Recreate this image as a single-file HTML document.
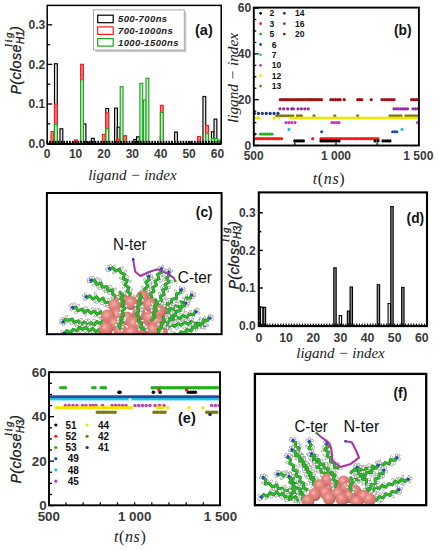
<!DOCTYPE html>
<html><head><meta charset="utf-8"><style>
html,body{margin:0;padding:0;background:#fff;}
body{width:438px;height:550px;overflow:hidden;}
svg{display:block;}
</style></head><body>
<svg width="438" height="550" viewBox="0 0 438 550">
<rect x="0" y="0" width="438" height="550" fill="#fff"/>
<rect x="54.50" y="63.70" width="2.80" height="80.40" fill="#e6e6e6" stroke="#000" stroke-width="1.15" />
<rect x="60.00" y="128.80" width="2.80" height="15.30" fill="#e6e6e6" stroke="#000" stroke-width="1.15" />
<rect x="74.20" y="142.00" width="2.80" height="2.10" fill="#e6e6e6" stroke="#000" stroke-width="1.15" />
<rect x="83.10" y="123.90" width="2.80" height="20.20" fill="#e6e6e6" stroke="#000" stroke-width="1.15" />
<rect x="85.90" y="142.00" width="2.80" height="2.10" fill="#e6e6e6" stroke="#000" stroke-width="1.15" />
<rect x="91.40" y="138.30" width="2.80" height="5.80" fill="#e6e6e6" stroke="#000" stroke-width="1.15" />
<rect x="105.80" y="108.50" width="2.80" height="35.60" fill="#e6e6e6" stroke="#000" stroke-width="1.15" />
<rect x="114.60" y="108.10" width="2.80" height="36.00" fill="#e6e6e6" stroke="#000" stroke-width="1.15" />
<rect x="117.20" y="127.20" width="2.80" height="16.90" fill="#e6e6e6" stroke="#000" stroke-width="1.15" />
<rect x="133.80" y="139.50" width="2.80" height="4.60" fill="#e6e6e6" stroke="#000" stroke-width="1.15" />
<rect x="136.60" y="136.80" width="2.80" height="7.30" fill="#e6e6e6" stroke="#000" stroke-width="1.15" />
<rect x="143.40" y="140.50" width="2.80" height="3.60" fill="#e6e6e6" stroke="#000" stroke-width="1.15" />
<rect x="160.40" y="136.00" width="2.80" height="8.10" fill="#e6e6e6" stroke="#000" stroke-width="1.15" />
<rect x="174.60" y="132.10" width="2.80" height="12.00" fill="#e6e6e6" stroke="#000" stroke-width="1.15" />
<rect x="188.30" y="142.00" width="2.80" height="2.10" fill="#e6e6e6" stroke="#000" stroke-width="1.15" />
<rect x="202.95" y="96.50" width="2.80" height="47.60" fill="#e6e6e6" stroke="#000" stroke-width="1.15" />
<rect x="211.40" y="131.80" width="2.80" height="12.30" fill="#e6e6e6" stroke="#000" stroke-width="1.15" />
<rect x="214.05" y="119.10" width="2.80" height="25.00" fill="#e6e6e6" stroke="#000" stroke-width="1.15" />
<rect x="51.00" y="131.50" width="2.80" height="12.60" fill="#ff8080" stroke="#ff1a1a" stroke-width="1.15" />
<rect x="54.50" y="104.20" width="2.80" height="39.90" fill="#ff8080" stroke="#ff1a1a" stroke-width="1.15" />
<rect x="74.40" y="140.00" width="2.80" height="4.10" fill="#ff8080" stroke="#ff1a1a" stroke-width="1.15" />
<rect x="80.60" y="64.30" width="2.80" height="79.80" fill="#ff8080" stroke="#ff1a1a" stroke-width="1.15" />
<rect x="102.40" y="134.40" width="2.80" height="9.70" fill="#ff8080" stroke="#ff1a1a" stroke-width="1.15" />
<rect x="105.80" y="112.90" width="2.80" height="31.20" fill="#ff8080" stroke="#ff1a1a" stroke-width="1.15" />
<rect x="116.60" y="139.20" width="2.80" height="4.90" fill="#ff8080" stroke="#ff1a1a" stroke-width="1.15" />
<rect x="123.60" y="135.70" width="2.80" height="8.40" fill="#ff8080" stroke="#ff1a1a" stroke-width="1.15" />
<rect x="160.40" y="105.30" width="2.80" height="38.80" fill="#ff8080" stroke="#ff1a1a" stroke-width="1.15" />
<rect x="197.60" y="136.50" width="2.80" height="7.60" fill="#ff8080" stroke="#ff1a1a" stroke-width="1.15" />
<rect x="205.70" y="125.50" width="2.80" height="18.60" fill="#ff8080" stroke="#ff1a1a" stroke-width="1.15" />
<rect x="54.50" y="124.70" width="2.80" height="19.40" fill="#c4eac4" stroke="#1aa81a" stroke-width="1.15" />
<rect x="80.60" y="79.70" width="2.80" height="64.40" fill="#c4eac4" stroke="#1aa81a" stroke-width="1.15" />
<rect x="105.80" y="128.80" width="2.80" height="15.30" fill="#c4eac4" stroke="#1aa81a" stroke-width="1.15" />
<rect x="120.20" y="86.70" width="2.80" height="57.40" fill="#c4eac4" stroke="#1aa81a" stroke-width="1.15" />
<rect x="139.90" y="83.30" width="2.80" height="60.80" fill="#c4eac4" stroke="#1aa81a" stroke-width="1.15" />
<rect x="143.40" y="100.10" width="2.80" height="44.00" fill="#c4eac4" stroke="#1aa81a" stroke-width="1.15" />
<rect x="146.00" y="78.20" width="2.80" height="65.90" fill="#c4eac4" stroke="#1aa81a" stroke-width="1.15" />
<rect x="160.40" y="112.40" width="2.80" height="31.70" fill="#c4eac4" stroke="#1aa81a" stroke-width="1.15" />
<rect x="205.70" y="133.50" width="2.80" height="10.60" fill="#c4eac4" stroke="#1aa81a" stroke-width="1.15" />
<rect x="211.60" y="138.50" width="2.80" height="5.60" fill="#c4eac4" stroke="#1aa81a" stroke-width="1.15" />
<rect x="214.60" y="138.50" width="2.80" height="5.60" fill="#c4eac4" stroke="#1aa81a" stroke-width="1.15" />
<rect x="217.60" y="140.00" width="2.80" height="4.10" fill="#c4eac4" stroke="#1aa81a" stroke-width="1.15" />
<rect x="46.30" y="140.80" width="1.80" height="2.80" fill="#000" stroke="none" stroke-width="1" />
<rect x="49.14" y="140.80" width="1.80" height="2.80" fill="#000" stroke="none" stroke-width="1" />
<rect x="51.98" y="140.80" width="1.80" height="2.80" fill="#000" stroke="none" stroke-width="1" />
<rect x="54.81" y="140.80" width="1.80" height="2.80" fill="#000" stroke="none" stroke-width="1" />
<rect x="57.65" y="140.80" width="1.80" height="2.80" fill="#000" stroke="none" stroke-width="1" />
<rect x="60.49" y="140.80" width="1.80" height="2.80" fill="#000" stroke="none" stroke-width="1" />
<rect x="63.33" y="140.80" width="1.80" height="2.80" fill="#000" stroke="none" stroke-width="1" />
<rect x="66.17" y="140.80" width="1.80" height="2.80" fill="#000" stroke="none" stroke-width="1" />
<rect x="69.00" y="140.80" width="1.80" height="2.80" fill="#000" stroke="none" stroke-width="1" />
<rect x="71.84" y="140.80" width="1.80" height="2.80" fill="#000" stroke="none" stroke-width="1" />
<rect x="74.68" y="140.80" width="1.80" height="2.80" fill="#000" stroke="none" stroke-width="1" />
<rect x="77.52" y="140.80" width="1.80" height="2.80" fill="#000" stroke="none" stroke-width="1" />
<rect x="80.36" y="140.80" width="1.80" height="2.80" fill="#000" stroke="none" stroke-width="1" />
<rect x="83.19" y="140.80" width="1.80" height="2.80" fill="#000" stroke="none" stroke-width="1" />
<rect x="86.03" y="140.80" width="1.80" height="2.80" fill="#000" stroke="none" stroke-width="1" />
<rect x="88.87" y="140.80" width="1.80" height="2.80" fill="#000" stroke="none" stroke-width="1" />
<rect x="91.71" y="140.80" width="1.80" height="2.80" fill="#000" stroke="none" stroke-width="1" />
<rect x="94.55" y="140.80" width="1.80" height="2.80" fill="#000" stroke="none" stroke-width="1" />
<rect x="97.38" y="140.80" width="1.80" height="2.80" fill="#000" stroke="none" stroke-width="1" />
<rect x="100.22" y="140.80" width="1.80" height="2.80" fill="#000" stroke="none" stroke-width="1" />
<rect x="103.06" y="140.80" width="1.80" height="2.80" fill="#000" stroke="none" stroke-width="1" />
<rect x="105.90" y="140.80" width="1.80" height="2.80" fill="#000" stroke="none" stroke-width="1" />
<rect x="108.74" y="140.80" width="1.80" height="2.80" fill="#000" stroke="none" stroke-width="1" />
<rect x="111.57" y="140.80" width="1.80" height="2.80" fill="#000" stroke="none" stroke-width="1" />
<rect x="114.41" y="140.80" width="1.80" height="2.80" fill="#000" stroke="none" stroke-width="1" />
<rect x="117.25" y="140.80" width="1.80" height="2.80" fill="#000" stroke="none" stroke-width="1" />
<rect x="120.09" y="140.80" width="1.80" height="2.80" fill="#000" stroke="none" stroke-width="1" />
<rect x="122.93" y="140.80" width="1.80" height="2.80" fill="#000" stroke="none" stroke-width="1" />
<rect x="125.76" y="140.80" width="1.80" height="2.80" fill="#000" stroke="none" stroke-width="1" />
<rect x="128.60" y="140.80" width="1.80" height="2.80" fill="#000" stroke="none" stroke-width="1" />
<rect x="131.44" y="140.80" width="1.80" height="2.80" fill="#000" stroke="none" stroke-width="1" />
<rect x="134.28" y="140.80" width="1.80" height="2.80" fill="#000" stroke="none" stroke-width="1" />
<rect x="137.12" y="140.80" width="1.80" height="2.80" fill="#000" stroke="none" stroke-width="1" />
<rect x="139.95" y="140.80" width="1.80" height="2.80" fill="#000" stroke="none" stroke-width="1" />
<rect x="142.79" y="140.80" width="1.80" height="2.80" fill="#000" stroke="none" stroke-width="1" />
<rect x="145.63" y="140.80" width="1.80" height="2.80" fill="#000" stroke="none" stroke-width="1" />
<rect x="148.47" y="140.80" width="1.80" height="2.80" fill="#000" stroke="none" stroke-width="1" />
<rect x="151.31" y="140.80" width="1.80" height="2.80" fill="#000" stroke="none" stroke-width="1" />
<rect x="154.14" y="140.80" width="1.80" height="2.80" fill="#000" stroke="none" stroke-width="1" />
<rect x="156.98" y="140.80" width="1.80" height="2.80" fill="#000" stroke="none" stroke-width="1" />
<rect x="159.82" y="140.80" width="1.80" height="2.80" fill="#000" stroke="none" stroke-width="1" />
<rect x="162.66" y="140.80" width="1.80" height="2.80" fill="#000" stroke="none" stroke-width="1" />
<rect x="165.50" y="140.80" width="1.80" height="2.80" fill="#000" stroke="none" stroke-width="1" />
<rect x="168.33" y="140.80" width="1.80" height="2.80" fill="#000" stroke="none" stroke-width="1" />
<rect x="171.17" y="140.80" width="1.80" height="2.80" fill="#000" stroke="none" stroke-width="1" />
<rect x="174.01" y="140.80" width="1.80" height="2.80" fill="#000" stroke="none" stroke-width="1" />
<rect x="176.85" y="140.80" width="1.80" height="2.80" fill="#000" stroke="none" stroke-width="1" />
<rect x="179.69" y="140.80" width="1.80" height="2.80" fill="#000" stroke="none" stroke-width="1" />
<rect x="182.52" y="140.80" width="1.80" height="2.80" fill="#000" stroke="none" stroke-width="1" />
<rect x="185.36" y="140.80" width="1.80" height="2.80" fill="#000" stroke="none" stroke-width="1" />
<rect x="188.20" y="140.80" width="1.80" height="2.80" fill="#000" stroke="none" stroke-width="1" />
<rect x="191.04" y="140.80" width="1.80" height="2.80" fill="#000" stroke="none" stroke-width="1" />
<rect x="193.88" y="140.80" width="1.80" height="2.80" fill="#000" stroke="none" stroke-width="1" />
<rect x="196.71" y="140.80" width="1.80" height="2.80" fill="#000" stroke="none" stroke-width="1" />
<rect x="199.55" y="140.80" width="1.80" height="2.80" fill="#000" stroke="none" stroke-width="1" />
<rect x="202.39" y="140.80" width="1.80" height="2.80" fill="#000" stroke="none" stroke-width="1" />
<rect x="205.23" y="140.80" width="1.80" height="2.80" fill="#000" stroke="none" stroke-width="1" />
<rect x="208.07" y="140.80" width="1.80" height="2.80" fill="#000" stroke="none" stroke-width="1" />
<rect x="210.90" y="140.80" width="1.80" height="2.80" fill="#000" stroke="none" stroke-width="1" />
<rect x="213.74" y="140.80" width="1.80" height="2.80" fill="#000" stroke="none" stroke-width="1" />
<rect x="216.58" y="140.80" width="1.80" height="2.80" fill="#000" stroke="none" stroke-width="1" />
<rect x="219.42" y="140.80" width="1.80" height="2.80" fill="#000" stroke="none" stroke-width="1" />
<rect x="47.20" y="5.40" width="174.00" height="138.40" fill="none" stroke="#000" stroke-width="1.5" />
<line x1="47.20" y1="144.00" x2="221.20" y2="144.00" stroke="#000" stroke-width="1.9"/>
<line x1="47.20" y1="143.60" x2="52.20" y2="143.60" stroke="#000" stroke-width="1.3"/>
<line x1="47.20" y1="123.80" x2="50.20" y2="123.80" stroke="#000" stroke-width="1.3"/>
<line x1="47.20" y1="104.00" x2="52.20" y2="104.00" stroke="#000" stroke-width="1.3"/>
<line x1="47.20" y1="84.20" x2="50.20" y2="84.20" stroke="#000" stroke-width="1.3"/>
<line x1="47.20" y1="64.40" x2="52.20" y2="64.40" stroke="#000" stroke-width="1.3"/>
<line x1="47.20" y1="44.60" x2="50.20" y2="44.60" stroke="#000" stroke-width="1.3"/>
<line x1="47.20" y1="24.80" x2="52.20" y2="24.80" stroke="#000" stroke-width="1.3"/>
<text x="45.30" y="147.90" font-family='"Liberation Sans", sans-serif' font-size="12" font-weight="bold" font-style="normal" text-anchor="end" fill="#3a3a3a" >0.0</text>
<text x="45.30" y="108.30" font-family='"Liberation Sans", sans-serif' font-size="12" font-weight="bold" font-style="normal" text-anchor="end" fill="#3a3a3a" >0.1</text>
<text x="45.30" y="68.70" font-family='"Liberation Sans", sans-serif' font-size="12" font-weight="bold" font-style="normal" text-anchor="end" fill="#3a3a3a" >0.2</text>
<text x="45.30" y="29.10" font-family='"Liberation Sans", sans-serif' font-size="12" font-weight="bold" font-style="normal" text-anchor="end" fill="#3a3a3a" >0.3</text>
<text x="47.20" y="157.70" font-family='"Liberation Sans", sans-serif' font-size="12" font-weight="bold" font-style="normal" text-anchor="middle" fill="#3a3a3a" >0</text>
<text x="75.58" y="157.70" font-family='"Liberation Sans", sans-serif' font-size="12" font-weight="bold" font-style="normal" text-anchor="middle" fill="#3a3a3a" >10</text>
<text x="103.96" y="157.70" font-family='"Liberation Sans", sans-serif' font-size="12" font-weight="bold" font-style="normal" text-anchor="middle" fill="#3a3a3a" >20</text>
<text x="132.34" y="157.70" font-family='"Liberation Sans", sans-serif' font-size="12" font-weight="bold" font-style="normal" text-anchor="middle" fill="#3a3a3a" >30</text>
<text x="160.72" y="157.70" font-family='"Liberation Sans", sans-serif' font-size="12" font-weight="bold" font-style="normal" text-anchor="middle" fill="#3a3a3a" >40</text>
<text x="189.10" y="157.70" font-family='"Liberation Sans", sans-serif' font-size="12" font-weight="bold" font-style="normal" text-anchor="middle" fill="#3a3a3a" >50</text>
<text x="217.48" y="157.70" font-family='"Liberation Sans", sans-serif' font-size="12" font-weight="bold" font-style="normal" text-anchor="middle" fill="#3a3a3a" >60</text>
<text x="132.40" y="180.20" font-family='"Liberation Serif", serif' font-size="15" font-weight="normal" font-style="italic" text-anchor="middle" fill="#222" >ligand − index</text>
<g transform="translate(21.00,94.60) rotate(-90)" font-family='"Liberation Sans", sans-serif' font-style="italic" fill="#1a1a1a" stroke="#1a1a1a" stroke-width="0.3"><text x="0" y="0" font-size="14.3" letter-spacing="0.4">P(close</text><text x="50.6" y="2.6" font-size="10" letter-spacing="0.3">H1</text><text x="47.6" y="-9.3" font-size="11" letter-spacing="1.4" font-family='"Liberation Serif", serif'>lig</text><text x="63.6" y="0" font-size="14.3">)</text></g>
<rect x="95.50" y="12.00" width="90.80" height="40.10" fill="#c8c8c8" stroke="none" stroke-width="1" />
<rect x="93.50" y="9.90" width="90.80" height="40.10" fill="#fff" stroke="#aaa" stroke-width="1" />
<rect x="97.70" y="15.20" width="15.50" height="7.50" fill="none" stroke="#000" stroke-width="1.2" />
<text x="118.00" y="22.40" font-family='"Liberation Sans", sans-serif' font-size="9.5" font-weight="bold" font-style="italic" text-anchor="start" fill="#222" letter-spacing="0.4">500-700ns</text>
<rect x="97.70" y="26.90" width="15.50" height="7.50" fill="none" stroke="#ff1a1a" stroke-width="1.2" />
<text x="118.00" y="34.10" font-family='"Liberation Sans", sans-serif' font-size="9.5" font-weight="bold" font-style="italic" text-anchor="start" fill="#222" letter-spacing="0.4">700-1000ns</text>
<rect x="97.70" y="38.60" width="15.50" height="7.50" fill="none" stroke="#1aa81a" stroke-width="1.2" />
<text x="118.00" y="45.80" font-family='"Liberation Sans", sans-serif' font-size="9.5" font-weight="bold" font-style="italic" text-anchor="start" fill="#222" letter-spacing="0.4">1000-1500ns</text>
<text x="195.00" y="34.60" font-family='"Liberation Sans", sans-serif' font-size="14.5" font-weight="bold" font-style="normal" text-anchor="start" fill="#111" >(a)</text>
<circle cx="280.30" cy="99.70" r="1.60" fill="#9a1212" />
<circle cx="282.58" cy="99.70" r="1.60" fill="#9a1212" />
<circle cx="284.87" cy="99.70" r="1.60" fill="#9a1212" />
<circle cx="287.15" cy="99.70" r="1.60" fill="#9a1212" />
<circle cx="289.43" cy="99.70" r="1.60" fill="#9a1212" />
<circle cx="291.72" cy="99.70" r="1.60" fill="#9a1212" />
<circle cx="294.00" cy="99.70" r="1.60" fill="#9a1212" />
<circle cx="296.28" cy="99.70" r="1.60" fill="#9a1212" />
<circle cx="298.57" cy="99.70" r="1.60" fill="#9a1212" />
<circle cx="300.85" cy="99.70" r="1.60" fill="#9a1212" />
<circle cx="303.13" cy="99.70" r="1.60" fill="#9a1212" />
<circle cx="305.42" cy="99.70" r="1.60" fill="#9a1212" />
<circle cx="307.70" cy="99.70" r="1.60" fill="#9a1212" />
<circle cx="309.40" cy="99.70" r="1.60" fill="#9a1212" />
<circle cx="311.42" cy="99.70" r="1.60" fill="#9a1212" />
<circle cx="313.43" cy="99.70" r="1.60" fill="#9a1212" />
<circle cx="315.45" cy="99.70" r="1.60" fill="#9a1212" />
<circle cx="317.47" cy="99.70" r="1.60" fill="#9a1212" />
<circle cx="319.48" cy="99.70" r="1.60" fill="#9a1212" />
<circle cx="321.50" cy="99.70" r="1.60" fill="#9a1212" />
<circle cx="330.80" cy="99.70" r="1.60" fill="#9a1212" />
<circle cx="333.15" cy="99.70" r="1.60" fill="#9a1212" />
<circle cx="335.50" cy="99.70" r="1.60" fill="#9a1212" />
<circle cx="337.85" cy="99.70" r="1.60" fill="#9a1212" />
<circle cx="340.20" cy="99.70" r="1.60" fill="#9a1212" />
<circle cx="344.20" cy="99.70" r="1.60" fill="#9a1212" />
<circle cx="357.70" cy="99.70" r="1.60" fill="#9a1212" />
<circle cx="359.75" cy="99.70" r="1.60" fill="#9a1212" />
<circle cx="361.80" cy="99.70" r="1.60" fill="#9a1212" />
<circle cx="371.20" cy="99.70" r="1.60" fill="#9a1212" />
<circle cx="382.00" cy="99.70" r="1.60" fill="#9a1212" />
<circle cx="384.40" cy="99.70" r="1.60" fill="#9a1212" />
<circle cx="386.80" cy="99.70" r="1.60" fill="#9a1212" />
<circle cx="389.20" cy="99.70" r="1.60" fill="#9a1212" />
<circle cx="391.60" cy="99.70" r="1.60" fill="#9a1212" />
<circle cx="394.00" cy="99.70" r="1.60" fill="#9a1212" />
<circle cx="411.60" cy="99.70" r="1.60" fill="#9a1212" />
<circle cx="413.73" cy="99.70" r="1.60" fill="#9a1212" />
<circle cx="415.87" cy="99.70" r="1.60" fill="#9a1212" />
<circle cx="418.00" cy="99.70" r="1.60" fill="#9a1212" />
<circle cx="280.00" cy="108.86" r="1.60" fill="#962aa0" />
<circle cx="283.70" cy="108.86" r="1.60" fill="#962aa0" />
<circle cx="287.70" cy="108.86" r="1.60" fill="#962aa0" />
<circle cx="291.70" cy="108.86" r="1.60" fill="#962aa0" />
<circle cx="293.40" cy="108.86" r="1.60" fill="#962aa0" />
<circle cx="298.00" cy="108.86" r="1.60" fill="#962aa0" />
<circle cx="301.40" cy="108.86" r="1.60" fill="#962aa0" />
<circle cx="304.80" cy="108.86" r="1.60" fill="#962aa0" />
<circle cx="308.20" cy="108.86" r="1.60" fill="#962aa0" />
<circle cx="394.00" cy="108.86" r="1.60" fill="#962aa0" />
<circle cx="396.25" cy="108.86" r="1.60" fill="#962aa0" />
<circle cx="398.50" cy="108.86" r="1.60" fill="#962aa0" />
<circle cx="400.75" cy="108.86" r="1.60" fill="#962aa0" />
<circle cx="403.00" cy="108.86" r="1.60" fill="#962aa0" />
<circle cx="405.25" cy="108.86" r="1.60" fill="#962aa0" />
<circle cx="407.50" cy="108.86" r="1.60" fill="#962aa0" />
<circle cx="413.00" cy="108.86" r="1.60" fill="#962aa0" />
<circle cx="415.50" cy="108.86" r="1.60" fill="#962aa0" />
<circle cx="418.00" cy="108.86" r="1.60" fill="#962aa0" />
<circle cx="254.50" cy="113.44" r="1.60" fill="#1a3488" />
<circle cx="258.42" cy="113.44" r="1.60" fill="#1a3488" />
<circle cx="262.33" cy="113.44" r="1.60" fill="#1a3488" />
<circle cx="266.25" cy="113.44" r="1.60" fill="#1a3488" />
<circle cx="270.17" cy="113.44" r="1.60" fill="#1a3488" />
<circle cx="274.08" cy="113.44" r="1.60" fill="#1a3488" />
<circle cx="278.00" cy="113.44" r="1.60" fill="#1a3488" />
<circle cx="276.80" cy="115.73" r="1.60" fill="#7a7a14" />
<circle cx="279.09" cy="115.73" r="1.60" fill="#7a7a14" />
<circle cx="281.37" cy="115.73" r="1.60" fill="#7a7a14" />
<circle cx="283.66" cy="115.73" r="1.60" fill="#7a7a14" />
<circle cx="285.94" cy="115.73" r="1.60" fill="#7a7a14" />
<circle cx="288.23" cy="115.73" r="1.60" fill="#7a7a14" />
<circle cx="290.51" cy="115.73" r="1.60" fill="#7a7a14" />
<circle cx="292.80" cy="115.73" r="1.60" fill="#7a7a14" />
<circle cx="297.40" cy="115.73" r="1.60" fill="#7a7a14" />
<circle cx="299.40" cy="115.73" r="1.60" fill="#7a7a14" />
<circle cx="301.40" cy="115.73" r="1.60" fill="#7a7a14" />
<circle cx="314.00" cy="115.73" r="1.60" fill="#7a7a14" />
<circle cx="334.80" cy="115.73" r="1.60" fill="#7a7a14" />
<circle cx="357.70" cy="115.73" r="1.60" fill="#7a7a14" />
<circle cx="390.00" cy="115.73" r="1.60" fill="#7a7a14" />
<circle cx="392.20" cy="115.73" r="1.60" fill="#7a7a14" />
<circle cx="394.40" cy="115.73" r="1.60" fill="#7a7a14" />
<circle cx="396.60" cy="115.73" r="1.60" fill="#7a7a14" />
<circle cx="398.80" cy="115.73" r="1.60" fill="#7a7a14" />
<circle cx="401.00" cy="115.73" r="1.60" fill="#7a7a14" />
<circle cx="406.00" cy="115.73" r="1.60" fill="#7a7a14" />
<circle cx="408.40" cy="115.73" r="1.60" fill="#7a7a14" />
<circle cx="410.80" cy="115.73" r="1.60" fill="#7a7a14" />
<circle cx="413.20" cy="115.73" r="1.60" fill="#7a7a14" />
<circle cx="415.60" cy="115.73" r="1.60" fill="#7a7a14" />
<circle cx="418.00" cy="115.73" r="1.60" fill="#7a7a14" />
<circle cx="255.00" cy="118.02" r="1.60" fill="#f2e400" />
<circle cx="257.00" cy="118.02" r="1.60" fill="#f2e400" />
<circle cx="259.00" cy="118.02" r="1.60" fill="#f2e400" />
<circle cx="274.00" cy="118.02" r="1.60" fill="#f2e400" />
<circle cx="279.00" cy="118.02" r="1.60" fill="#f2e400" />
<circle cx="290.50" cy="118.02" r="1.60" fill="#f2e400" />
<circle cx="292.68" cy="118.02" r="1.60" fill="#f2e400" />
<circle cx="294.86" cy="118.02" r="1.60" fill="#f2e400" />
<circle cx="297.04" cy="118.02" r="1.60" fill="#f2e400" />
<circle cx="299.21" cy="118.02" r="1.60" fill="#f2e400" />
<circle cx="301.39" cy="118.02" r="1.60" fill="#f2e400" />
<circle cx="303.57" cy="118.02" r="1.60" fill="#f2e400" />
<circle cx="305.75" cy="118.02" r="1.60" fill="#f2e400" />
<circle cx="307.93" cy="118.02" r="1.60" fill="#f2e400" />
<circle cx="310.11" cy="118.02" r="1.60" fill="#f2e400" />
<circle cx="312.29" cy="118.02" r="1.60" fill="#f2e400" />
<circle cx="314.46" cy="118.02" r="1.60" fill="#f2e400" />
<circle cx="316.64" cy="118.02" r="1.60" fill="#f2e400" />
<circle cx="318.82" cy="118.02" r="1.60" fill="#f2e400" />
<circle cx="321.00" cy="118.02" r="1.60" fill="#f2e400" />
<circle cx="323.18" cy="118.02" r="1.60" fill="#f2e400" />
<circle cx="325.36" cy="118.02" r="1.60" fill="#f2e400" />
<circle cx="327.54" cy="118.02" r="1.60" fill="#f2e400" />
<circle cx="329.71" cy="118.02" r="1.60" fill="#f2e400" />
<circle cx="331.89" cy="118.02" r="1.60" fill="#f2e400" />
<circle cx="334.07" cy="118.02" r="1.60" fill="#f2e400" />
<circle cx="336.25" cy="118.02" r="1.60" fill="#f2e400" />
<circle cx="338.43" cy="118.02" r="1.60" fill="#f2e400" />
<circle cx="340.61" cy="118.02" r="1.60" fill="#f2e400" />
<circle cx="342.79" cy="118.02" r="1.60" fill="#f2e400" />
<circle cx="344.96" cy="118.02" r="1.60" fill="#f2e400" />
<circle cx="347.14" cy="118.02" r="1.60" fill="#f2e400" />
<circle cx="349.32" cy="118.02" r="1.60" fill="#f2e400" />
<circle cx="351.50" cy="118.02" r="1.60" fill="#f2e400" />
<circle cx="353.68" cy="118.02" r="1.60" fill="#f2e400" />
<circle cx="355.86" cy="118.02" r="1.60" fill="#f2e400" />
<circle cx="358.04" cy="118.02" r="1.60" fill="#f2e400" />
<circle cx="360.21" cy="118.02" r="1.60" fill="#f2e400" />
<circle cx="362.39" cy="118.02" r="1.60" fill="#f2e400" />
<circle cx="364.57" cy="118.02" r="1.60" fill="#f2e400" />
<circle cx="366.75" cy="118.02" r="1.60" fill="#f2e400" />
<circle cx="368.93" cy="118.02" r="1.60" fill="#f2e400" />
<circle cx="371.11" cy="118.02" r="1.60" fill="#f2e400" />
<circle cx="373.29" cy="118.02" r="1.60" fill="#f2e400" />
<circle cx="375.46" cy="118.02" r="1.60" fill="#f2e400" />
<circle cx="377.64" cy="118.02" r="1.60" fill="#f2e400" />
<circle cx="379.82" cy="118.02" r="1.60" fill="#f2e400" />
<circle cx="382.00" cy="118.02" r="1.60" fill="#f2e400" />
<circle cx="383.50" cy="118.02" r="1.60" fill="#f2e400" />
<circle cx="385.66" cy="118.02" r="1.60" fill="#f2e400" />
<circle cx="387.81" cy="118.02" r="1.60" fill="#f2e400" />
<circle cx="389.97" cy="118.02" r="1.60" fill="#f2e400" />
<circle cx="392.12" cy="118.02" r="1.60" fill="#f2e400" />
<circle cx="394.28" cy="118.02" r="1.60" fill="#f2e400" />
<circle cx="396.44" cy="118.02" r="1.60" fill="#f2e400" />
<circle cx="398.59" cy="118.02" r="1.60" fill="#f2e400" />
<circle cx="400.75" cy="118.02" r="1.60" fill="#f2e400" />
<circle cx="402.91" cy="118.02" r="1.60" fill="#f2e400" />
<circle cx="405.06" cy="118.02" r="1.60" fill="#f2e400" />
<circle cx="407.22" cy="118.02" r="1.60" fill="#f2e400" />
<circle cx="409.38" cy="118.02" r="1.60" fill="#f2e400" />
<circle cx="411.53" cy="118.02" r="1.60" fill="#f2e400" />
<circle cx="413.69" cy="118.02" r="1.60" fill="#f2e400" />
<circle cx="415.84" cy="118.02" r="1.60" fill="#f2e400" />
<circle cx="418.00" cy="118.02" r="1.60" fill="#f2e400" />
<circle cx="286.00" cy="122.60" r="1.60" fill="#c040b8" />
<circle cx="288.85" cy="122.60" r="1.60" fill="#c040b8" />
<circle cx="291.70" cy="122.60" r="1.60" fill="#c040b8" />
<circle cx="295.00" cy="122.60" r="1.60" fill="#c040b8" />
<circle cx="332.00" cy="122.60" r="1.60" fill="#c040b8" />
<circle cx="334.33" cy="122.60" r="1.60" fill="#c040b8" />
<circle cx="336.67" cy="122.60" r="1.60" fill="#c040b8" />
<circle cx="339.00" cy="122.60" r="1.60" fill="#c040b8" />
<circle cx="417.50" cy="122.60" r="1.60" fill="#c040b8" />
<circle cx="289.00" cy="129.47" r="1.60" fill="#22c4e0" />
<circle cx="402.00" cy="129.47" r="1.60" fill="#22c4e0" />
<circle cx="321.70" cy="131.76" r="1.60" fill="#1f4fa8" />
<circle cx="392.70" cy="131.76" r="1.60" fill="#1f4fa8" />
<circle cx="394.75" cy="131.76" r="1.60" fill="#1f4fa8" />
<circle cx="396.80" cy="131.76" r="1.60" fill="#1f4fa8" />
<circle cx="255.00" cy="134.05" r="1.60" fill="#1fb01f" />
<circle cx="260.50" cy="134.05" r="1.60" fill="#1fb01f" />
<circle cx="262.80" cy="134.05" r="1.60" fill="#1fb01f" />
<circle cx="265.10" cy="134.05" r="1.60" fill="#1fb01f" />
<circle cx="267.40" cy="134.05" r="1.60" fill="#1fb01f" />
<circle cx="269.70" cy="134.05" r="1.60" fill="#1fb01f" />
<circle cx="272.00" cy="134.05" r="1.60" fill="#1fb01f" />
<circle cx="254.50" cy="138.63" r="1.60" fill="#ff1a1a" />
<circle cx="256.75" cy="138.63" r="1.60" fill="#ff1a1a" />
<circle cx="259.00" cy="138.63" r="1.60" fill="#ff1a1a" />
<circle cx="261.25" cy="138.63" r="1.60" fill="#ff1a1a" />
<circle cx="263.50" cy="138.63" r="1.60" fill="#ff1a1a" />
<circle cx="265.75" cy="138.63" r="1.60" fill="#ff1a1a" />
<circle cx="268.00" cy="138.63" r="1.60" fill="#ff1a1a" />
<circle cx="270.25" cy="138.63" r="1.60" fill="#ff1a1a" />
<circle cx="272.50" cy="138.63" r="1.60" fill="#ff1a1a" />
<circle cx="274.75" cy="138.63" r="1.60" fill="#ff1a1a" />
<circle cx="277.00" cy="138.63" r="1.60" fill="#ff1a1a" />
<circle cx="279.25" cy="138.63" r="1.60" fill="#ff1a1a" />
<circle cx="281.50" cy="138.63" r="1.60" fill="#ff1a1a" />
<circle cx="312.70" cy="138.63" r="1.60" fill="#ff1a1a" />
<circle cx="321.00" cy="138.63" r="1.60" fill="#ff1a1a" />
<circle cx="323.19" cy="138.63" r="1.60" fill="#ff1a1a" />
<circle cx="325.38" cy="138.63" r="1.60" fill="#ff1a1a" />
<circle cx="327.58" cy="138.63" r="1.60" fill="#ff1a1a" />
<circle cx="329.77" cy="138.63" r="1.60" fill="#ff1a1a" />
<circle cx="331.96" cy="138.63" r="1.60" fill="#ff1a1a" />
<circle cx="334.15" cy="138.63" r="1.60" fill="#ff1a1a" />
<circle cx="336.35" cy="138.63" r="1.60" fill="#ff1a1a" />
<circle cx="338.54" cy="138.63" r="1.60" fill="#ff1a1a" />
<circle cx="340.73" cy="138.63" r="1.60" fill="#ff1a1a" />
<circle cx="342.92" cy="138.63" r="1.60" fill="#ff1a1a" />
<circle cx="345.12" cy="138.63" r="1.60" fill="#ff1a1a" />
<circle cx="347.31" cy="138.63" r="1.60" fill="#ff1a1a" />
<circle cx="349.50" cy="138.63" r="1.60" fill="#ff1a1a" />
<circle cx="351.69" cy="138.63" r="1.60" fill="#ff1a1a" />
<circle cx="353.88" cy="138.63" r="1.60" fill="#ff1a1a" />
<circle cx="356.08" cy="138.63" r="1.60" fill="#ff1a1a" />
<circle cx="358.27" cy="138.63" r="1.60" fill="#ff1a1a" />
<circle cx="360.46" cy="138.63" r="1.60" fill="#ff1a1a" />
<circle cx="362.65" cy="138.63" r="1.60" fill="#ff1a1a" />
<circle cx="364.85" cy="138.63" r="1.60" fill="#ff1a1a" />
<circle cx="367.04" cy="138.63" r="1.60" fill="#ff1a1a" />
<circle cx="369.23" cy="138.63" r="1.60" fill="#ff1a1a" />
<circle cx="371.42" cy="138.63" r="1.60" fill="#ff1a1a" />
<circle cx="373.62" cy="138.63" r="1.60" fill="#ff1a1a" />
<circle cx="375.81" cy="138.63" r="1.60" fill="#ff1a1a" />
<circle cx="378.00" cy="138.63" r="1.60" fill="#ff1a1a" />
<circle cx="294.80" cy="140.92" r="1.60" fill="#000000" />
<circle cx="296.95" cy="140.92" r="1.60" fill="#000000" />
<circle cx="299.10" cy="140.92" r="1.60" fill="#000000" />
<circle cx="301.25" cy="140.92" r="1.60" fill="#000000" />
<circle cx="303.40" cy="140.92" r="1.60" fill="#000000" />
<circle cx="321.00" cy="140.92" r="1.60" fill="#000000" />
<circle cx="323.25" cy="140.92" r="1.60" fill="#000000" />
<circle cx="325.50" cy="140.92" r="1.60" fill="#000000" />
<circle cx="327.75" cy="140.92" r="1.60" fill="#000000" />
<circle cx="330.00" cy="140.92" r="1.60" fill="#000000" />
<circle cx="332.25" cy="140.92" r="1.60" fill="#000000" />
<circle cx="334.50" cy="140.92" r="1.60" fill="#000000" />
<circle cx="336.75" cy="140.92" r="1.60" fill="#000000" />
<circle cx="339.00" cy="140.92" r="1.60" fill="#000000" />
<circle cx="375.00" cy="140.92" r="1.60" fill="#000000" />
<circle cx="378.00" cy="140.92" r="1.60" fill="#000000" />
<circle cx="383.00" cy="140.92" r="1.60" fill="#000000" />
<circle cx="385.33" cy="140.92" r="1.60" fill="#000000" />
<circle cx="387.67" cy="140.92" r="1.60" fill="#000000" />
<circle cx="390.00" cy="140.92" r="1.60" fill="#000000" />
<rect x="253.80" y="7.60" width="165.10" height="137.90" fill="none" stroke="#000" stroke-width="1.9" />
<line x1="253.80" y1="145.50" x2="258.80" y2="145.50" stroke="#000" stroke-width="1.3"/>
<line x1="253.80" y1="134.05" x2="256.30" y2="134.05" stroke="#000" stroke-width="1.3"/>
<line x1="253.80" y1="122.60" x2="256.30" y2="122.60" stroke="#000" stroke-width="1.3"/>
<line x1="253.80" y1="111.15" x2="256.30" y2="111.15" stroke="#000" stroke-width="1.3"/>
<line x1="253.80" y1="99.70" x2="258.80" y2="99.70" stroke="#000" stroke-width="1.3"/>
<line x1="253.80" y1="88.25" x2="256.30" y2="88.25" stroke="#000" stroke-width="1.3"/>
<line x1="253.80" y1="76.80" x2="256.30" y2="76.80" stroke="#000" stroke-width="1.3"/>
<line x1="253.80" y1="65.35" x2="256.30" y2="65.35" stroke="#000" stroke-width="1.3"/>
<line x1="253.80" y1="53.90" x2="258.80" y2="53.90" stroke="#000" stroke-width="1.3"/>
<line x1="253.80" y1="42.45" x2="256.30" y2="42.45" stroke="#000" stroke-width="1.3"/>
<line x1="253.80" y1="31.00" x2="256.30" y2="31.00" stroke="#000" stroke-width="1.3"/>
<line x1="253.80" y1="19.55" x2="256.30" y2="19.55" stroke="#000" stroke-width="1.3"/>
<line x1="253.80" y1="8.10" x2="258.80" y2="8.10" stroke="#000" stroke-width="1.3"/>
<line x1="294.85" y1="145.50" x2="294.85" y2="142.50" stroke="#000" stroke-width="1.2"/>
<line x1="336.00" y1="145.50" x2="336.00" y2="142.50" stroke="#000" stroke-width="1.2"/>
<line x1="377.15" y1="145.50" x2="377.15" y2="142.50" stroke="#000" stroke-width="1.2"/>
<text x="251.20" y="149.80" font-family='"Liberation Sans", sans-serif' font-size="12" font-weight="bold" font-style="normal" text-anchor="end" fill="#3a3a3a" >0</text>
<text x="251.20" y="104.00" font-family='"Liberation Sans", sans-serif' font-size="12" font-weight="bold" font-style="normal" text-anchor="end" fill="#3a3a3a" >20</text>
<text x="251.20" y="58.20" font-family='"Liberation Sans", sans-serif' font-size="12" font-weight="bold" font-style="normal" text-anchor="end" fill="#3a3a3a" >40</text>
<text x="251.20" y="12.40" font-family='"Liberation Sans", sans-serif' font-size="12" font-weight="bold" font-style="normal" text-anchor="end" fill="#3a3a3a" >60</text>
<text x="253.70" y="159.90" font-family='"Liberation Sans", sans-serif' font-size="12" font-weight="bold" font-style="normal" text-anchor="middle" fill="#3a3a3a" >500</text>
<text x="336.00" y="159.90" font-family='"Liberation Sans", sans-serif' font-size="12" font-weight="bold" font-style="normal" text-anchor="middle" fill="#3a3a3a" >1 000</text>
<text x="418.30" y="159.90" font-family='"Liberation Sans", sans-serif' font-size="12" font-weight="bold" font-style="normal" text-anchor="middle" fill="#3a3a3a" >1 500</text>
<text x="329" y="183.7" text-anchor="middle" font-family='"Liberation Serif", serif' font-size="16" fill="#222" letter-spacing="0.6"><tspan font-style="italic">t</tspan>(<tspan font-style="italic">ns</tspan>)</text>
<g transform="translate(238.20,78.00) rotate(-90)"><text x="0" y="0" text-anchor="middle" font-family='"Liberation Serif", serif' font-style="italic" font-size="15.3" fill="#222">ligand − index</text></g>
<circle cx="260.60" cy="13.30" r="1.40" fill="#000000" />
<text x="269.50" y="16.30" font-family='"Liberation Sans", sans-serif' font-size="8.5" font-weight="bold" font-style="normal" text-anchor="start" fill="#111" >2</text>
<circle cx="260.60" cy="23.70" r="1.40" fill="#ff1a1a" />
<text x="269.50" y="26.70" font-family='"Liberation Sans", sans-serif' font-size="8.5" font-weight="bold" font-style="normal" text-anchor="start" fill="#111" >3</text>
<circle cx="260.60" cy="34.10" r="1.40" fill="#1fb01f" />
<text x="269.50" y="37.10" font-family='"Liberation Sans", sans-serif' font-size="8.5" font-weight="bold" font-style="normal" text-anchor="start" fill="#111" >5</text>
<circle cx="260.60" cy="44.50" r="1.40" fill="#1f4fa8" />
<text x="271.70" y="47.50" font-family='"Liberation Sans", sans-serif' font-size="8.5" font-weight="bold" font-style="normal" text-anchor="start" fill="#111" >6</text>
<circle cx="260.60" cy="54.90" r="1.40" fill="#22c4e0" />
<text x="271.70" y="57.90" font-family='"Liberation Sans", sans-serif' font-size="8.5" font-weight="bold" font-style="normal" text-anchor="start" fill="#111" >7</text>
<circle cx="260.60" cy="65.30" r="1.40" fill="#c040b8" />
<text x="271.70" y="68.30" font-family='"Liberation Sans", sans-serif' font-size="8.5" font-weight="bold" font-style="normal" text-anchor="start" fill="#111" >10</text>
<circle cx="260.60" cy="75.70" r="1.40" fill="#f2e400" />
<text x="271.70" y="78.70" font-family='"Liberation Sans", sans-serif' font-size="8.5" font-weight="bold" font-style="normal" text-anchor="start" fill="#111" >12</text>
<circle cx="260.60" cy="86.10" r="1.40" fill="#7a7a14" />
<text x="271.70" y="89.10" font-family='"Liberation Sans", sans-serif' font-size="8.5" font-weight="bold" font-style="normal" text-anchor="start" fill="#111" >13</text>
<circle cx="284.30" cy="13.30" r="1.40" fill="#1a3488" />
<text x="295.00" y="16.30" font-family='"Liberation Sans", sans-serif' font-size="8.5" font-weight="bold" font-style="normal" text-anchor="start" fill="#111" >14</text>
<circle cx="284.30" cy="23.70" r="1.40" fill="#962aa0" />
<text x="295.00" y="26.70" font-family='"Liberation Sans", sans-serif' font-size="8.5" font-weight="bold" font-style="normal" text-anchor="start" fill="#111" >16</text>
<circle cx="284.30" cy="34.10" r="1.40" fill="#9a1212" />
<text x="295.00" y="37.10" font-family='"Liberation Sans", sans-serif' font-size="8.5" font-weight="bold" font-style="normal" text-anchor="start" fill="#111" >20</text>
<text x="394.00" y="34.50" font-family='"Liberation Sans", sans-serif' font-size="13.8" font-weight="bold" font-style="normal" text-anchor="start" fill="#111" >(b)</text>
<defs><radialGradient id="sph" cx="0.4" cy="0.36" r="0.66">
<stop offset="0" stop-color="#f4b8b0"/><stop offset="0.3" stop-color="#e88c84"/><stop offset="0.75" stop-color="#d6746e"/><stop offset="1" stop-color="#a85450"/></radialGradient></defs>
<clipPath id="clipc"><rect x="47.2" y="193.5" width="174" height="140"/></clipPath>
<clipPath id="clipf"><rect x="255.4" y="374.9" width="170.3" height="129.3"/></clipPath>
<g clip-path="url(#clipc)">
<path d="M112.7,267.9L114.6,265.7M112.7,267.9L110.6,265.7M116.0,270.9L113.2,273.0M119.5,269.1L122.5,267.5M124.4,274.4L127.3,276.3M124.4,274.4L125.5,271.0M123.1,278.8L120.1,278.3M127.1,280.5L130.3,281.4M127.1,280.5L128.1,277.3M125.3,284.8L122.8,282.3M125.3,284.8L123.5,287.3M128.8,287.6L131.7,289.5M130.2,293.6L130.6,290.6M129.5,297.7L126.1,297.9M133.8,298.8L136.8,300.2M133.8,298.8L134.1,295.8" stroke="#8c8c8c" stroke-width="2.5" fill="none" stroke-linecap="round"/>
<path d="M112.7,267.9L114.6,265.7M112.7,267.9L110.6,265.7M116.0,270.9L113.2,273.0M119.5,269.1L122.5,267.5M124.4,274.4L127.3,276.3M124.4,274.4L125.5,271.0M123.1,278.8L120.1,278.3M127.1,280.5L130.3,281.4M127.1,280.5L128.1,277.3M125.3,284.8L122.8,282.3M125.3,284.8L123.5,287.3M128.8,287.6L131.7,289.5M130.2,293.6L130.6,290.6M129.5,297.7L126.1,297.9M133.8,298.8L136.8,300.2M133.8,298.8L134.1,295.8" stroke="#f4f4f4" stroke-width="1.5" fill="none" stroke-linecap="round"/>
<path d="M108.9,269.9 L112.7,267.9 L116.0,270.9 L119.5,269.1 L120.6,272.5 L124.4,274.4 L123.1,278.8 L127.1,280.5 L125.3,284.8 L128.8,287.6 L127.0,291.2 L130.2,293.6 L129.5,297.7 L133.8,298.8" fill="none" stroke="#178a17" stroke-width="3.0" stroke-linejoin="round" stroke-linecap="round"/>
<path d="M108.9,269.9 L112.7,267.9 L116.0,270.9 L119.5,269.1 L120.6,272.5 L124.4,274.4 L123.1,278.8 L127.1,280.5 L125.3,284.8 L128.8,287.6 L127.0,291.2 L130.2,293.6 L129.5,297.7 L133.8,298.8" fill="none" stroke="#30b830" stroke-width="1.9" stroke-linejoin="round" stroke-linecap="round"/>
<path d="M109.3,268.6L107.5,271.0M109.3,268.6L106.3,268.9M109.3,268.6L108.0,265.9" stroke="#8c8c8c" stroke-width="2.5" fill="none" stroke-linecap="round"/>
<path d="M109.3,268.6L107.5,271.0M109.3,268.6L106.3,268.9M109.3,268.6L108.0,265.9" stroke="#f4f4f4" stroke-width="1.5" fill="none" stroke-linecap="round"/>
<circle cx="109.3" cy="268.6" r="1.6" fill="#2a40c0"/>
<path d="M94.3,280.1L97.6,278.4M94.3,280.1L92.9,277.1M96.6,284.2L93.4,285.4M96.6,284.2L97.8,287.2M101.0,283.1L100.2,279.8M102.2,287.1L99.2,288.8M102.2,287.1L103.8,290.2M106.7,286.8L110.2,286.2M108.1,290.7L105.1,292.0M108.1,290.7L109.2,293.7M112.5,290.0L115.5,288.9M112.5,290.0L110.9,287.1M112.8,294.1L111.8,297.0M114.7,300.9L112.3,299.1M118.4,303.3L121.3,304.2M118.4,303.3L119.5,299.9" stroke="#8c8c8c" stroke-width="2.5" fill="none" stroke-linecap="round"/>
<path d="M94.3,280.1L97.6,278.4M94.3,280.1L92.9,277.1M96.6,284.2L93.4,285.4M96.6,284.2L97.8,287.2M101.0,283.1L100.2,279.8M102.2,287.1L99.2,288.8M102.2,287.1L103.8,290.2M106.7,286.8L110.2,286.2M108.1,290.7L105.1,292.0M108.1,290.7L109.2,293.7M112.5,290.0L115.5,288.9M112.5,290.0L110.9,287.1M112.8,294.1L111.8,297.0M114.7,300.9L112.3,299.1M118.4,303.3L121.3,304.2M118.4,303.3L119.5,299.9" stroke="#f4f4f4" stroke-width="1.5" fill="none" stroke-linecap="round"/>
<path d="M90.3,281.5 L94.3,280.1 L96.6,284.2 L101.0,283.1 L102.2,287.1 L106.7,286.8 L108.1,290.7 L112.5,290.0 L112.8,294.1 L116.1,296.7 L114.7,300.9 L118.4,303.3" fill="none" stroke="#178a17" stroke-width="3.0" stroke-linejoin="round" stroke-linecap="round"/>
<path d="M90.3,281.5 L94.3,280.1 L96.6,284.2 L101.0,283.1 L102.2,287.1 L106.7,286.8 L108.1,290.7 L112.5,290.0 L112.8,294.1 L116.1,296.7 L114.7,300.9 L118.4,303.3" fill="none" stroke="#30b830" stroke-width="1.9" stroke-linejoin="round" stroke-linecap="round"/>
<path d="M90.9,280.2L88.3,281.8M90.9,280.2L88.0,279.5M90.9,280.2L90.5,277.2" stroke="#8c8c8c" stroke-width="2.5" fill="none" stroke-linecap="round"/>
<path d="M90.9,280.2L88.3,281.8M90.9,280.2L88.0,279.5M90.9,280.2L90.5,277.2" stroke="#f4f4f4" stroke-width="1.5" fill="none" stroke-linecap="round"/>
<circle cx="90.9" cy="280.2" r="1.6" fill="#2a40c0"/>
<path d="M92.8,299.0L94.7,301.5M96.6,296.9L95.1,293.5M99.3,300.5L96.8,302.9M99.3,300.5L101.0,303.4M105.1,302.3L101.7,303.6M105.1,302.3L104.8,305.9M109.6,302.4L108.6,299.4M110.6,306.6L107.2,306.2" stroke="#8c8c8c" stroke-width="2.5" fill="none" stroke-linecap="round"/>
<path d="M92.8,299.0L94.7,301.5M96.6,296.9L95.1,293.5M99.3,300.5L96.8,302.9M99.3,300.5L101.0,303.4M105.1,302.3L101.7,303.6M105.1,302.3L104.8,305.9M109.6,302.4L108.6,299.4M110.6,306.6L107.2,306.2" stroke="#f4f4f4" stroke-width="1.5" fill="none" stroke-linecap="round"/>
<path d="M86.0,298.1 L89.8,295.9 L92.8,299.0 L96.6,296.9 L99.3,300.5 L103.1,298.1 L105.1,302.3 L109.6,302.4 L110.6,306.6" fill="none" stroke="#178a17" stroke-width="3.0" stroke-linejoin="round" stroke-linecap="round"/>
<path d="M86.0,298.1 L89.8,295.9 L92.8,299.0 L96.6,296.9 L99.3,300.5 L103.1,298.1 L105.1,302.3 L109.6,302.4 L110.6,306.6" fill="none" stroke="#30b830" stroke-width="1.9" stroke-linejoin="round" stroke-linecap="round"/>
<path d="M86.0,296.7L84.6,299.4M86.0,296.7L83.2,295.7M86.0,296.7L85.2,293.8" stroke="#8c8c8c" stroke-width="2.5" fill="none" stroke-linecap="round"/>
<path d="M86.0,296.7L84.6,299.4M86.0,296.7L83.2,295.7M86.0,296.7L85.2,293.8" stroke="#f4f4f4" stroke-width="1.5" fill="none" stroke-linecap="round"/>
<circle cx="86.0" cy="296.7" r="1.6" fill="#2a40c0"/>
<path d="M75.8,307.2L78.6,305.1M75.8,307.2L74.7,303.8M77.9,310.8L75.5,312.8M82.0,309.2L84.8,308.3M84.3,312.4L85.7,315.0M88.0,310.3L86.1,307.5M94.4,311.2L96.3,308.9M94.4,311.2L92.3,308.4M97.2,314.2L94.8,316.3M97.2,314.2L99.0,317.0M100.9,311.8L99.3,309.3M102.9,315.3L99.8,315.6M102.9,315.3L103.5,318.4M107.0,314.3L110.6,313.4M107.0,314.3L106.2,310.8M108.8,318.0L106.2,319.7M108.8,318.0L110.3,320.5" stroke="#8c8c8c" stroke-width="2.5" fill="none" stroke-linecap="round"/>
<path d="M75.8,307.2L78.6,305.1M75.8,307.2L74.7,303.8M77.9,310.8L75.5,312.8M82.0,309.2L84.8,308.3M84.3,312.4L85.7,315.0M88.0,310.3L86.1,307.5M94.4,311.2L96.3,308.9M94.4,311.2L92.3,308.4M97.2,314.2L94.8,316.3M97.2,314.2L99.0,317.0M100.9,311.8L99.3,309.3M102.9,315.3L99.8,315.6M102.9,315.3L103.5,318.4M107.0,314.3L110.6,313.4M107.0,314.3L106.2,310.8M108.8,318.0L106.2,319.7M108.8,318.0L110.3,320.5" stroke="#f4f4f4" stroke-width="1.5" fill="none" stroke-linecap="round"/>
<path d="M72.3,308.5 L75.8,307.2 L77.9,310.8 L82.0,309.2 L84.3,312.4 L88.0,310.3 L90.8,313.2 L94.4,311.2 L97.2,314.2 L100.9,311.8 L102.9,315.3 L107.0,314.3 L108.8,318.0" fill="none" stroke="#178a17" stroke-width="3.0" stroke-linejoin="round" stroke-linecap="round"/>
<path d="M72.3,308.5 L75.8,307.2 L77.9,310.8 L82.0,309.2 L84.3,312.4 L88.0,310.3 L90.8,313.2 L94.4,311.2 L97.2,314.2 L100.9,311.8 L102.9,315.3 L107.0,314.3 L108.8,318.0" fill="none" stroke="#30b830" stroke-width="1.9" stroke-linejoin="round" stroke-linecap="round"/>
<path d="M72.5,307.4L70.9,310.0M72.5,307.4L69.9,305.9M72.5,307.4L71.7,304.5" stroke="#8c8c8c" stroke-width="2.5" fill="none" stroke-linecap="round"/>
<path d="M72.5,307.4L70.9,310.0M72.5,307.4L69.9,305.9M72.5,307.4L71.7,304.5" stroke="#f4f4f4" stroke-width="1.5" fill="none" stroke-linecap="round"/>
<circle cx="72.5" cy="307.4" r="1.6" fill="#2a40c0"/>
<path d="M64.9,319.5L66.6,316.3M64.9,319.5L62.3,318.2M68.4,320.2L65.6,322.4M68.4,320.2L70.4,322.7M74.2,322.4L71.5,324.0M74.2,322.4L75.9,325.2M78.1,320.9L81.2,319.2M81.1,324.4L78.6,326.5M81.1,324.4L82.5,327.1M84.2,322.1L86.7,319.9M84.2,322.1L81.8,320.1M91.1,322.7L88.6,320.0M96.8,321.6L93.6,320.2M100.5,323.5L98.8,326.3M100.5,323.5L103.2,325.5M103.1,319.9L104.6,316.7M103.1,319.9L100.4,318.5" stroke="#8c8c8c" stroke-width="2.5" fill="none" stroke-linecap="round"/>
<path d="M64.9,319.5L66.6,316.3M64.9,319.5L62.3,318.2M68.4,320.2L65.6,322.4M68.4,320.2L70.4,322.7M74.2,322.4L71.5,324.0M74.2,322.4L75.9,325.2M78.1,320.9L81.2,319.2M81.1,324.4L78.6,326.5M81.1,324.4L82.5,327.1M84.2,322.1L86.7,319.9M84.2,322.1L81.8,320.1M91.1,322.7L88.6,320.0M96.8,321.6L93.6,320.2M100.5,323.5L98.8,326.3M100.5,323.5L103.2,325.5M103.1,319.9L104.6,316.7M103.1,319.9L100.4,318.5" stroke="#f4f4f4" stroke-width="1.5" fill="none" stroke-linecap="round"/>
<path d="M63.1,323.4 L64.9,319.5 L68.4,320.2 L72.2,319.0 L74.2,322.4 L78.1,320.9 L81.1,324.4 L84.2,322.1 L87.3,324.8 L91.1,322.7 L94.5,324.9 L96.8,321.6 L100.5,323.5 L103.1,319.9" fill="none" stroke="#178a17" stroke-width="3.0" stroke-linejoin="round" stroke-linecap="round"/>
<path d="M63.1,323.4 L64.9,319.5 L68.4,320.2 L72.2,319.0 L74.2,322.4 L78.1,320.9 L81.1,324.4 L84.2,322.1 L87.3,324.8 L91.1,322.7 L94.5,324.9 L96.8,321.6 L100.5,323.5 L103.1,319.9" fill="none" stroke="#30b830" stroke-width="1.9" stroke-linejoin="round" stroke-linecap="round"/>
<path d="M62.8,322.0L63.3,325.0M62.8,322.0L60.0,323.1M62.8,322.0L60.6,320.0" stroke="#8c8c8c" stroke-width="2.5" fill="none" stroke-linecap="round"/>
<path d="M62.8,322.0L63.3,325.0M62.8,322.0L60.0,323.1M62.8,322.0L60.6,320.0" stroke="#f4f4f4" stroke-width="1.5" fill="none" stroke-linecap="round"/>
<circle cx="62.8" cy="322.0" r="1.6" fill="#2a40c0"/>
<path d="M70.7,332.7L69.4,336.1M77.1,330.7L75.2,333.6M79.2,327.4L80.4,324.2M79.2,327.4L76.2,325.9M82.4,329.3L79.9,332.0M82.4,329.3L85.1,331.8M86.1,327.5L88.7,325.2M86.1,327.5L84.8,324.8M89.1,330.8L86.7,332.4M89.1,330.8L91.4,333.4M92.7,328.5L91.1,325.9M95.6,331.6L97.9,333.8M99.2,329.6L102.0,327.9M101.3,332.7L98.1,333.6M101.3,332.7L102.8,335.4M105.3,331.9L103.5,328.9M107.5,335.1L104.2,336.5M107.5,335.1L108.2,338.0" stroke="#8c8c8c" stroke-width="2.5" fill="none" stroke-linecap="round"/>
<path d="M70.7,332.7L69.4,336.1M77.1,330.7L75.2,333.6M79.2,327.4L80.4,324.2M79.2,327.4L76.2,325.9M82.4,329.3L79.9,332.0M82.4,329.3L85.1,331.8M86.1,327.5L88.7,325.2M86.1,327.5L84.8,324.8M89.1,330.8L86.7,332.4M89.1,330.8L91.4,333.4M92.7,328.5L91.1,325.9M95.6,331.6L97.9,333.8M99.2,329.6L102.0,327.9M101.3,332.7L98.1,333.6M101.3,332.7L102.8,335.4M105.3,331.9L103.5,328.9M107.5,335.1L104.2,336.5M107.5,335.1L108.2,338.0" stroke="#f4f4f4" stroke-width="1.5" fill="none" stroke-linecap="round"/>
<path d="M64.6,334.5 L66.6,330.7 L70.7,332.7 L73.0,329.3 L77.1,330.7 L79.2,327.4 L82.4,329.3 L86.1,327.5 L89.1,330.8 L92.7,328.5 L95.6,331.6 L99.2,329.6 L101.3,332.7 L105.3,331.9 L107.5,335.1" fill="none" stroke="#178a17" stroke-width="3.0" stroke-linejoin="round" stroke-linecap="round"/>
<path d="M64.6,334.5 L66.6,330.7 L70.7,332.7 L73.0,329.3 L77.1,330.7 L79.2,327.4 L82.4,329.3 L86.1,327.5 L89.1,330.8 L92.7,328.5 L95.6,331.6 L99.2,329.6 L101.3,332.7 L105.3,331.9 L107.5,335.1" fill="none" stroke="#30b830" stroke-width="1.9" stroke-linejoin="round" stroke-linecap="round"/>
<path d="M64.0,333.0L63.9,336.0M64.0,333.0L61.3,334.4M64.0,333.0L61.6,331.2" stroke="#8c8c8c" stroke-width="2.5" fill="none" stroke-linecap="round"/>
<path d="M64.0,333.0L63.9,336.0M64.0,333.0L61.3,334.4M64.0,333.0L61.6,331.2" stroke="#f4f4f4" stroke-width="1.5" fill="none" stroke-linecap="round"/>
<circle cx="64.0" cy="333.0" r="1.6" fill="#2a40c0"/>
<path d="M149.1,279.5L150.6,282.8M149.1,279.5L151.8,278.1M145.9,282.3L144.4,279.6M147.8,286.2L149.0,289.7M147.8,286.2L150.7,284.6M144.3,289.6L142.1,286.7M144.3,289.6L141.2,291.2M145.6,293.4L147.5,296.2M145.6,293.4L148.1,291.1M142.4,296.2L140.5,293.4M142.4,296.2L139.6,297.3M144.7,300.2L146.9,298.2M141.3,303.3L138.7,304.7" stroke="#8c8c8c" stroke-width="2.5" fill="none" stroke-linecap="round"/>
<path d="M149.1,279.5L150.6,282.8M149.1,279.5L151.8,278.1M145.9,282.3L144.4,279.6M147.8,286.2L149.0,289.7M147.8,286.2L150.7,284.6M144.3,289.6L142.1,286.7M144.3,289.6L141.2,291.2M145.6,293.4L147.5,296.2M145.6,293.4L148.1,291.1M142.4,296.2L140.5,293.4M142.4,296.2L139.6,297.3M144.7,300.2L146.9,298.2M141.3,303.3L138.7,304.7" stroke="#f4f4f4" stroke-width="1.5" fill="none" stroke-linecap="round"/>
<path d="M147.8,275.8 L149.1,279.5 L145.9,282.3 L147.8,286.2 L144.3,289.6 L145.6,293.4 L142.4,296.2 L144.7,300.2 L141.3,303.3" fill="none" stroke="#178a17" stroke-width="3.0" stroke-linejoin="round" stroke-linecap="round"/>
<path d="M147.8,275.8 L149.1,279.5 L145.9,282.3 L147.8,286.2 L144.3,289.6 L145.6,293.4 L142.4,296.2 L144.7,300.2 L141.3,303.3" fill="none" stroke="#30b830" stroke-width="1.9" stroke-linejoin="round" stroke-linecap="round"/>
<path d="M148.9,276.0L147.0,273.7M148.9,276.0L149.8,273.1M148.9,276.0L151.9,276.1" stroke="#8c8c8c" stroke-width="2.5" fill="none" stroke-linecap="round"/>
<path d="M148.9,276.0L147.0,273.7M148.9,276.0L149.8,273.1M148.9,276.0L151.9,276.1" stroke="#f4f4f4" stroke-width="1.5" fill="none" stroke-linecap="round"/>
<circle cx="148.9" cy="276.0" r="1.6" fill="#2a40c0"/>
<path d="M161.3,272.5L162.0,275.7M161.3,272.5L164.1,271.3M158.9,278.8L160.4,281.9M155.2,281.0L153.2,278.0M155.2,281.0L152.3,282.5M152.7,287.5L150.2,289.3M150.5,293.6L148.6,291.4M150.5,293.6L147.4,295.3M151.9,297.7L154.7,300.2M148.7,300.5L146.4,302.4M150.6,304.5L153.6,302.5M147.5,307.1L144.7,308.7" stroke="#8c8c8c" stroke-width="2.5" fill="none" stroke-linecap="round"/>
<path d="M161.3,272.5L162.0,275.7M161.3,272.5L164.1,271.3M158.9,278.8L160.4,281.9M155.2,281.0L153.2,278.0M155.2,281.0L152.3,282.5M152.7,287.5L150.2,289.3M150.5,293.6L148.6,291.4M150.5,293.6L147.4,295.3M151.9,297.7L154.7,300.2M148.7,300.5L146.4,302.4M150.6,304.5L153.6,302.5M147.5,307.1L144.7,308.7" stroke="#f4f4f4" stroke-width="1.5" fill="none" stroke-linecap="round"/>
<path d="M160.4,268.4 L161.3,272.5 L157.5,274.3 L158.9,278.8 L155.2,281.0 L156.4,285.0 L152.7,287.5 L154.0,291.3 L150.5,293.6 L151.9,297.7 L148.7,300.5 L150.6,304.5 L147.5,307.1" fill="none" stroke="#178a17" stroke-width="3.0" stroke-linejoin="round" stroke-linecap="round"/>
<path d="M160.4,268.4 L161.3,272.5 L157.5,274.3 L158.9,278.8 L155.2,281.0 L156.4,285.0 L152.7,287.5 L154.0,291.3 L150.5,293.6 L151.9,297.7 L148.7,300.5 L150.6,304.5 L147.5,307.1" fill="none" stroke="#30b830" stroke-width="1.9" stroke-linejoin="round" stroke-linecap="round"/>
<path d="M161.5,268.7L159.0,267.0M161.5,268.7L162.9,266.0M161.5,268.7L164.4,269.3" stroke="#8c8c8c" stroke-width="2.5" fill="none" stroke-linecap="round"/>
<path d="M161.5,268.7L159.0,267.0M161.5,268.7L162.9,266.0M161.5,268.7L164.4,269.3" stroke="#f4f4f4" stroke-width="1.5" fill="none" stroke-linecap="round"/>
<circle cx="161.5" cy="268.7" r="1.6" fill="#2a40c0"/>
<path d="M166.6,278.3L163.8,275.8M166.6,278.3L163.4,280.1M169.1,281.9L172.1,281.4M165.1,284.5L162.0,286.1M166.7,288.1L167.7,291.5M166.7,288.1L169.8,287.5M162.7,290.2L161.4,287.4M164.1,294.5L165.5,297.5M160.4,296.3L159.3,293.0M161.5,300.8L162.5,304.3M161.5,300.8L164.9,299.9M158.1,302.8L155.2,303.5M159.6,306.6L162.0,305.0M155.9,309.3L153.8,307.0M155.9,309.3L153.1,311.2" stroke="#8c8c8c" stroke-width="2.5" fill="none" stroke-linecap="round"/>
<path d="M166.6,278.3L163.8,275.8M166.6,278.3L163.4,280.1M169.1,281.9L172.1,281.4M165.1,284.5L162.0,286.1M166.7,288.1L167.7,291.5M166.7,288.1L169.8,287.5M162.7,290.2L161.4,287.4M164.1,294.5L165.5,297.5M160.4,296.3L159.3,293.0M161.5,300.8L162.5,304.3M161.5,300.8L164.9,299.9M158.1,302.8L155.2,303.5M159.6,306.6L162.0,305.0M155.9,309.3L153.8,307.0M155.9,309.3L153.1,311.2" stroke="#f4f4f4" stroke-width="1.5" fill="none" stroke-linecap="round"/>
<path d="M167.7,271.4 L169.5,275.0 L166.6,278.3 L169.1,281.9 L165.1,284.5 L166.7,288.1 L162.7,290.2 L164.1,294.5 L160.4,296.3 L161.5,300.8 L158.1,302.8 L159.6,306.6 L155.9,309.3" fill="none" stroke="#178a17" stroke-width="3.0" stroke-linejoin="round" stroke-linecap="round"/>
<path d="M167.7,271.4 L169.5,275.0 L166.6,278.3 L169.1,281.9 L165.1,284.5 L166.7,288.1 L162.7,290.2 L164.1,294.5 L160.4,296.3 L161.5,300.8 L158.1,302.8 L159.6,306.6 L155.9,309.3" fill="none" stroke="#30b830" stroke-width="1.9" stroke-linejoin="round" stroke-linecap="round"/>
<path d="M168.9,271.8L166.3,270.3M168.9,271.8L169.7,268.9M168.9,271.8L171.8,271.0" stroke="#8c8c8c" stroke-width="2.5" fill="none" stroke-linecap="round"/>
<path d="M168.9,271.8L166.3,270.3M168.9,271.8L169.7,268.9M168.9,271.8L171.8,271.0" stroke="#f4f4f4" stroke-width="1.5" fill="none" stroke-linecap="round"/>
<circle cx="168.9" cy="271.8" r="1.6" fill="#2a40c0"/>
<path d="M180.2,292.9L183.0,292.1M176.5,293.9L175.5,290.7M176.3,298.3L176.1,302.0M172.0,299.2L168.4,299.3M171.4,303.4L171.1,306.4M167.4,303.7L167.8,300.5M167.4,303.7L164.3,303.5M166.8,308.4L169.8,307.8M162.5,308.9L163.2,305.3M162.5,308.9L159.2,308.2" stroke="#8c8c8c" stroke-width="2.5" fill="none" stroke-linecap="round"/>
<path d="M180.2,292.9L183.0,292.1M176.5,293.9L175.5,290.7M176.3,298.3L176.1,302.0M172.0,299.2L168.4,299.3M171.4,303.4L171.1,306.4M167.4,303.7L167.8,300.5M167.4,303.7L164.3,303.5M166.8,308.4L169.8,307.8M162.5,308.9L163.2,305.3M162.5,308.9L159.2,308.2" stroke="#f4f4f4" stroke-width="1.5" fill="none" stroke-linecap="round"/>
<path d="M180.7,288.9 L180.2,292.9 L176.5,293.9 L176.3,298.3 L172.0,299.2 L171.4,303.4 L167.4,303.7 L166.8,308.4 L162.5,308.9" fill="none" stroke="#178a17" stroke-width="3.0" stroke-linejoin="round" stroke-linecap="round"/>
<path d="M180.7,288.9 L180.2,292.9 L176.5,293.9 L176.3,298.3 L172.0,299.2 L171.4,303.4 L167.4,303.7 L166.8,308.4 L162.5,308.9" fill="none" stroke="#30b830" stroke-width="1.9" stroke-linejoin="round" stroke-linecap="round"/>
<path d="M181.5,289.7L180.1,287.0M181.5,289.7L183.9,287.9M181.5,289.7L184.2,291.0" stroke="#8c8c8c" stroke-width="2.5" fill="none" stroke-linecap="round"/>
<path d="M181.5,289.7L180.1,287.0M181.5,289.7L183.9,287.9M181.5,289.7L184.2,291.0" stroke="#f4f4f4" stroke-width="1.5" fill="none" stroke-linecap="round"/>
<circle cx="181.5" cy="289.7" r="1.6" fill="#2a40c0"/>
<path d="M190.5,298.0L189.5,301.0M190.5,298.0L193.5,297.8M186.3,298.1L186.8,295.2M186.3,298.1L183.0,298.1M185.2,302.4L185.3,305.4M181.1,302.1L177.4,301.4M180.3,306.7L179.9,309.8M180.3,306.7L183.5,307.7M175.8,305.9L172.7,304.2M174.1,309.4L174.0,312.4M174.1,309.4L177.0,310.3M169.9,308.6L170.9,305.0M169.9,308.6L167.4,307.1M168.3,312.3L167.7,315.2M168.3,312.3L171.4,312.6M164.2,312.0L164.7,309.1M164.2,312.0L161.0,310.8" stroke="#8c8c8c" stroke-width="2.5" fill="none" stroke-linecap="round"/>
<path d="M190.5,298.0L189.5,301.0M190.5,298.0L193.5,297.8M186.3,298.1L186.8,295.2M186.3,298.1L183.0,298.1M185.2,302.4L185.3,305.4M181.1,302.1L177.4,301.4M180.3,306.7L179.9,309.8M180.3,306.7L183.5,307.7M175.8,305.9L172.7,304.2M174.1,309.4L174.0,312.4M174.1,309.4L177.0,310.3M169.9,308.6L170.9,305.0M169.9,308.6L167.4,307.1M168.3,312.3L167.7,315.2M168.3,312.3L171.4,312.6M164.2,312.0L164.7,309.1M164.2,312.0L161.0,310.8" stroke="#f4f4f4" stroke-width="1.5" fill="none" stroke-linecap="round"/>
<path d="M191.4,294.0 L190.5,298.0 L186.3,298.1 L185.2,302.4 L181.1,302.1 L180.3,306.7 L175.8,305.9 L174.1,309.4 L169.9,308.6 L168.3,312.3 L164.2,312.0" fill="none" stroke="#178a17" stroke-width="3.0" stroke-linejoin="round" stroke-linecap="round"/>
<path d="M191.4,294.0 L190.5,298.0 L186.3,298.1 L185.2,302.4 L181.1,302.1 L180.3,306.7 L175.8,305.9 L174.1,309.4 L169.9,308.6 L168.3,312.3 L164.2,312.0" fill="none" stroke="#30b830" stroke-width="1.9" stroke-linejoin="round" stroke-linecap="round"/>
<path d="M192.0,295.0L191.9,292.0M192.0,295.0L194.6,293.5M192.0,295.0L194.9,295.9" stroke="#8c8c8c" stroke-width="2.5" fill="none" stroke-linecap="round"/>
<path d="M192.0,295.0L191.9,292.0M192.0,295.0L194.6,293.5M192.0,295.0L194.9,295.9" stroke="#f4f4f4" stroke-width="1.5" fill="none" stroke-linecap="round"/>
<circle cx="192.0" cy="295.0" r="1.6" fill="#2a40c0"/>
<path d="M193.9,314.6L193.0,317.6M189.1,314.2L190.6,311.2M189.1,314.2L185.9,312.5M187.0,317.5L185.6,320.2M187.0,317.5L189.1,320.1M182.9,315.5L185.2,313.1M182.9,315.5L180.1,314.1M179.9,318.7L177.3,321.2M179.9,318.7L183.0,319.9M176.0,316.7L173.9,314.6M173.0,319.9L170.4,322.4M173.0,319.9L176.4,321.4M168.8,318.0L170.3,315.3M168.8,318.0L166.6,315.7" stroke="#8c8c8c" stroke-width="2.5" fill="none" stroke-linecap="round"/>
<path d="M193.9,314.6L193.0,317.6M189.1,314.2L190.6,311.2M189.1,314.2L185.9,312.5M187.0,317.5L185.6,320.2M187.0,317.5L189.1,320.1M182.9,315.5L185.2,313.1M182.9,315.5L180.1,314.1M179.9,318.7L177.3,321.2M179.9,318.7L183.0,319.9M176.0,316.7L173.9,314.6M173.0,319.9L170.4,322.4M173.0,319.9L176.4,321.4M168.8,318.0L170.3,315.3M168.8,318.0L166.6,315.7" stroke="#f4f4f4" stroke-width="1.5" fill="none" stroke-linecap="round"/>
<path d="M195.3,310.7 L193.9,314.6 L189.1,314.2 L187.0,317.5 L182.9,315.5 L179.9,318.7 L176.0,316.7 L173.0,319.9 L168.8,318.0 L165.9,321.1" fill="none" stroke="#178a17" stroke-width="3.0" stroke-linejoin="round" stroke-linecap="round"/>
<path d="M195.3,310.7 L193.9,314.6 L189.1,314.2 L187.0,317.5 L182.9,315.5 L179.9,318.7 L176.0,316.7 L173.0,319.9 L168.8,318.0 L165.9,321.1" fill="none" stroke="#30b830" stroke-width="1.9" stroke-linejoin="round" stroke-linecap="round"/>
<path d="M196.2,311.7L196.7,308.7M196.2,311.7L198.4,309.7M196.2,311.7L198.9,313.1" stroke="#8c8c8c" stroke-width="2.5" fill="none" stroke-linecap="round"/>
<path d="M196.2,311.7L196.7,308.7M196.2,311.7L198.4,309.7M196.2,311.7L198.9,313.1" stroke="#f4f4f4" stroke-width="1.5" fill="none" stroke-linecap="round"/>
<circle cx="196.2" cy="311.7" r="1.6" fill="#2a40c0"/>
<path d="M201.0,325.9L197.7,327.4M194.4,323.8L192.1,325.9M194.4,323.8L196.7,326.6M191.0,321.5L192.9,319.2M188.4,324.1L190.4,326.3M184.7,322.3L186.0,319.4M184.7,322.3L182.1,320.9M181.3,325.2L179.1,327.2M178.0,323.7L179.5,320.9M178.0,323.7L175.1,321.7M174.6,326.3L177.1,328.6M170.9,324.6L173.1,321.7M168.1,327.9L166.4,331.3M168.1,327.9L170.9,329.3" stroke="#8c8c8c" stroke-width="2.5" fill="none" stroke-linecap="round"/>
<path d="M201.0,325.9L197.7,327.4M194.4,323.8L192.1,325.9M194.4,323.8L196.7,326.6M191.0,321.5L192.9,319.2M188.4,324.1L190.4,326.3M184.7,322.3L186.0,319.4M184.7,322.3L182.1,320.9M181.3,325.2L179.1,327.2M178.0,323.7L179.5,320.9M178.0,323.7L175.1,321.7M174.6,326.3L177.1,328.6M170.9,324.6L173.1,321.7M168.1,327.9L166.4,331.3M168.1,327.9L170.9,329.3" stroke="#f4f4f4" stroke-width="1.5" fill="none" stroke-linecap="round"/>
<path d="M204.8,323.9 L201.0,325.9 L198.2,322.6 L194.4,323.8 L191.0,321.5 L188.4,324.1 L184.7,322.3 L181.3,325.2 L178.0,323.7 L174.6,326.3 L170.9,324.6 L168.1,327.9" fill="none" stroke="#178a17" stroke-width="3.0" stroke-linejoin="round" stroke-linecap="round"/>
<path d="M204.8,323.9 L201.0,325.9 L198.2,322.6 L194.4,323.8 L191.0,321.5 L188.4,324.1 L184.7,322.3 L181.3,325.2 L178.0,323.7 L174.6,326.3 L170.9,324.6 L168.1,327.9" fill="none" stroke="#30b830" stroke-width="1.9" stroke-linejoin="round" stroke-linecap="round"/>
<path d="M204.6,325.4L206.2,322.8M204.6,325.4L207.6,325.5M204.6,325.4L204.4,328.4" stroke="#8c8c8c" stroke-width="2.5" fill="none" stroke-linecap="round"/>
<path d="M204.6,325.4L206.2,322.8M204.6,325.4L207.6,325.5M204.6,325.4L204.4,328.4" stroke="#f4f4f4" stroke-width="1.5" fill="none" stroke-linecap="round"/>
<circle cx="204.6" cy="325.4" r="1.6" fill="#2a40c0"/>
<path d="M184.4,305.9L183.8,309.6M184.4,305.9L187.9,306.0M180.3,306.7L179.7,303.3M180.1,310.7L183.8,310.9M176.2,311.4L175.8,307.7M175.4,315.3L175.9,318.7M171.8,315.9L171.7,312.3M171.8,315.9L168.6,316.0M171.4,319.8L170.9,323.4M167.4,320.7L167.1,317.6M167.4,320.7L164.2,320.2M167.2,325.0L167.7,328.3M167.2,325.0L170.6,324.6" stroke="#8c8c8c" stroke-width="2.5" fill="none" stroke-linecap="round"/>
<path d="M184.4,305.9L183.8,309.6M184.4,305.9L187.9,306.0M180.3,306.7L179.7,303.3M180.1,310.7L183.8,310.9M176.2,311.4L175.8,307.7M175.4,315.3L175.9,318.7M171.8,315.9L171.7,312.3M171.8,315.9L168.6,316.0M171.4,319.8L170.9,323.4M167.4,320.7L167.1,317.6M167.4,320.7L164.2,320.2M167.2,325.0L167.7,328.3M167.2,325.0L170.6,324.6" stroke="#f4f4f4" stroke-width="1.5" fill="none" stroke-linecap="round"/>
<path d="M185.0,302.3 L184.4,305.9 L180.3,306.7 L180.1,310.7 L176.2,311.4 L175.4,315.3 L171.8,315.9 L171.4,319.8 L167.4,320.7 L167.2,325.0" fill="none" stroke="#178a17" stroke-width="3.0" stroke-linejoin="round" stroke-linecap="round"/>
<path d="M185.0,302.3 L184.4,305.9 L180.3,306.7 L180.1,310.7 L176.2,311.4 L175.4,315.3 L171.8,315.9 L171.4,319.8 L167.4,320.7 L167.2,325.0" fill="none" stroke="#30b830" stroke-width="1.9" stroke-linejoin="round" stroke-linecap="round"/>
<path d="M186.0,303.0L185.5,300.0M186.0,303.0L188.2,301.0M186.0,303.0L189.0,303.5" stroke="#8c8c8c" stroke-width="2.5" fill="none" stroke-linecap="round"/>
<path d="M186.0,303.0L185.5,300.0M186.0,303.0L188.2,301.0M186.0,303.0L189.0,303.5" stroke="#f4f4f4" stroke-width="1.5" fill="none" stroke-linecap="round"/>
<circle cx="186.0" cy="303.0" r="1.6" fill="#2a40c0"/>
<path d="M203.6,320.0L205.1,317.0M203.6,320.0L200.3,318.5M202.5,324.1L202.4,327.7M202.5,324.1L206.1,324.9M198.0,323.4L198.9,320.6M196.6,327.2L196.4,330.3M196.6,327.2L199.8,328.0M192.7,327.0L192.8,323.3M192.7,327.0L189.4,326.9M187.0,329.6L188.9,327.0M187.0,329.6L183.8,327.8M184.6,333.1L188.2,333.8M178.6,335.4L177.3,338.9M178.6,335.4L181.3,336.8M174.6,334.0L171.8,332.4M172.6,337.5L170.9,340.0" stroke="#8c8c8c" stroke-width="2.5" fill="none" stroke-linecap="round"/>
<path d="M203.6,320.0L205.1,317.0M203.6,320.0L200.3,318.5M202.5,324.1L202.4,327.7M202.5,324.1L206.1,324.9M198.0,323.4L198.9,320.6M196.6,327.2L196.4,330.3M196.6,327.2L199.8,328.0M192.7,327.0L192.8,323.3M192.7,327.0L189.4,326.9M187.0,329.6L188.9,327.0M187.0,329.6L183.8,327.8M184.6,333.1L188.2,333.8M178.6,335.4L177.3,338.9M178.6,335.4L181.3,336.8M174.6,334.0L171.8,332.4M172.6,337.5L170.9,340.0" stroke="#f4f4f4" stroke-width="1.5" fill="none" stroke-linecap="round"/>
<path d="M209.2,316.8 L207.9,320.6 L203.6,320.0 L202.5,324.1 L198.0,323.4 L196.6,327.2 L192.7,327.0 L191.3,331.1 L187.0,329.6 L184.6,333.1 L180.9,331.7 L178.6,335.4 L174.6,334.0 L172.6,337.5" fill="none" stroke="#178a17" stroke-width="3.0" stroke-linejoin="round" stroke-linecap="round"/>
<path d="M209.2,316.8 L207.9,320.6 L203.6,320.0 L202.5,324.1 L198.0,323.4 L196.6,327.2 L192.7,327.0 L191.3,331.1 L187.0,329.6 L184.6,333.1 L180.9,331.7 L178.6,335.4 L174.6,334.0 L172.6,337.5" fill="none" stroke="#30b830" stroke-width="1.9" stroke-linejoin="round" stroke-linecap="round"/>
<path d="M210.0,318.0L209.6,315.0M210.0,318.0L212.4,316.2M210.0,318.0L212.7,319.3" stroke="#8c8c8c" stroke-width="2.5" fill="none" stroke-linecap="round"/>
<path d="M210.0,318.0L209.6,315.0M210.0,318.0L212.4,316.2M210.0,318.0L212.7,319.3" stroke="#f4f4f4" stroke-width="1.5" fill="none" stroke-linecap="round"/>
<circle cx="210.0" cy="318.0" r="1.6" fill="#2a40c0"/>
<circle cx="142.6" cy="297.5" r="6.9" fill="url(#sph)"/>
<circle cx="122.0" cy="300.0" r="6.9" fill="url(#sph)"/>
<circle cx="131.0" cy="303.0" r="6.9" fill="url(#sph)"/>
<circle cx="150.0" cy="305.0" r="6.9" fill="url(#sph)"/>
<circle cx="115.1" cy="305.6" r="6.9" fill="url(#sph)"/>
<circle cx="159.4" cy="311.7" r="6.9" fill="url(#sph)"/>
<circle cx="138.8" cy="314.0" r="6.9" fill="url(#sph)"/>
<circle cx="118.0" cy="315.0" r="6.9" fill="url(#sph)"/>
<circle cx="107.8" cy="316.5" r="6.9" fill="url(#sph)"/>
<circle cx="149.8" cy="318.0" r="6.9" fill="url(#sph)"/>
<circle cx="127.0" cy="318.4" r="6.9" fill="url(#sph)"/>
<circle cx="157.3" cy="322.0" r="6.9" fill="url(#sph)"/>
<circle cx="115.1" cy="324.0" r="6.9" fill="url(#sph)"/>
<circle cx="134.0" cy="324.0" r="6.9" fill="url(#sph)"/>
<circle cx="142.6" cy="328.0" r="6.9" fill="url(#sph)"/>
<circle cx="106.0" cy="329.0" r="6.9" fill="url(#sph)"/>
<circle cx="153.4" cy="330.0" r="6.9" fill="url(#sph)"/>
<circle cx="120.6" cy="331.0" r="6.9" fill="url(#sph)"/>
<circle cx="131.5" cy="333.0" r="6.9" fill="url(#sph)"/>
<circle cx="161.0" cy="333.0" r="6.9" fill="url(#sph)"/>
<path d="M123.0,295.4L124.7,292.8M120.6,298.6L117.6,296.6M120.6,298.6L119.4,301.6M125.0,308.4L126.6,305.3M122.3,311.3L120.5,308.5M122.3,311.3L119.4,312.7M123.6,315.6L125.3,318.5M120.7,318.1L117.6,318.9M122.3,321.9L125.2,319.9M118.7,324.2L117.6,321.1M118.7,324.2L115.6,325.2M120.2,328.4L122.1,330.7M120.2,328.4L123.0,326.9" stroke="#8c8c8c" stroke-width="2.5" fill="none" stroke-linecap="round"/>
<path d="M123.0,295.4L124.7,292.8M120.6,298.6L117.6,296.6M120.6,298.6L119.4,301.6M125.0,308.4L126.6,305.3M122.3,311.3L120.5,308.5M122.3,311.3L119.4,312.7M123.6,315.6L125.3,318.5M120.7,318.1L117.6,318.9M122.3,321.9L125.2,319.9M118.7,324.2L117.6,321.1M118.7,324.2L115.6,325.2M120.2,328.4L122.1,330.7M120.2,328.4L123.0,326.9" stroke="#f4f4f4" stroke-width="1.5" fill="none" stroke-linecap="round"/>
<path d="M119.9,292.0 L123.0,295.4 L120.6,298.6 L123.9,301.5 L122.0,305.4 L125.0,308.4 L122.3,311.3 L123.6,315.6 L120.7,318.1 L122.3,321.9 L118.7,324.2 L120.2,328.4" fill="none" stroke="#178a17" stroke-width="3.0" stroke-linejoin="round" stroke-linecap="round"/>
<path d="M119.9,292.0 L123.0,295.4 L120.6,298.6 L123.9,301.5 L122.0,305.4 L125.0,308.4 L122.3,311.3 L123.6,315.6 L120.7,318.1 L122.3,321.9 L118.7,324.2 L120.2,328.4" fill="none" stroke="#30b830" stroke-width="1.9" stroke-linejoin="round" stroke-linecap="round"/>
<path d="M141.6,297.9L143.0,300.7M138.5,300.6L136.6,297.8M140.4,304.3L142.8,306.7M137.2,306.9L135.0,304.5M137.2,306.9L135.1,309.0M138.9,310.8L141.0,312.9M138.9,310.8L142.3,309.5M139.3,317.0L140.6,314.1M138.1,321.2L136.8,323.9M141.7,323.5L144.8,325.4M140.7,327.4L138.7,329.9M144.4,329.3L147.5,330.3M144.4,329.3L146.4,326.5" stroke="#8c8c8c" stroke-width="2.5" fill="none" stroke-linecap="round"/>
<path d="M141.6,297.9L143.0,300.7M138.5,300.6L136.6,297.8M140.4,304.3L142.8,306.7M137.2,306.9L135.0,304.5M137.2,306.9L135.1,309.0M138.9,310.8L141.0,312.9M138.9,310.8L142.3,309.5M139.3,317.0L140.6,314.1M138.1,321.2L136.8,323.9M141.7,323.5L144.8,325.4M140.7,327.4L138.7,329.9M144.4,329.3L147.5,330.3M144.4,329.3L146.4,326.5" stroke="#f4f4f4" stroke-width="1.5" fill="none" stroke-linecap="round"/>
<path d="M140.0,294.0 L141.6,297.9 L138.5,300.6 L140.4,304.3 L137.2,306.9 L138.9,310.8 L135.8,314.4 L139.3,317.0 L138.1,321.2 L141.7,323.5 L140.7,327.4 L144.4,329.3" fill="none" stroke="#178a17" stroke-width="3.0" stroke-linejoin="round" stroke-linecap="round"/>
<path d="M140.0,294.0 L141.6,297.9 L138.5,300.6 L140.4,304.3 L137.2,306.9 L138.9,310.8 L135.8,314.4 L139.3,317.0 L138.1,321.2 L141.7,323.5 L140.7,327.4 L144.4,329.3" fill="none" stroke="#30b830" stroke-width="1.9" stroke-linejoin="round" stroke-linecap="round"/>
<path d="M157.6,303.8L160.3,302.1M154.1,306.2L151.7,303.6M154.1,306.2L150.7,307.5M156.4,310.2L159.7,308.5M152.9,312.9L151.4,309.9M152.9,312.9L150.5,315.2" stroke="#8c8c8c" stroke-width="2.5" fill="none" stroke-linecap="round"/>
<path d="M157.6,303.8L160.3,302.1M154.1,306.2L151.7,303.6M154.1,306.2L150.7,307.5M156.4,310.2L159.7,308.5M152.9,312.9L151.4,309.9M152.9,312.9L150.5,315.2" stroke="#f4f4f4" stroke-width="1.5" fill="none" stroke-linecap="round"/>
<path d="M155.7,299.9 L157.6,303.8 L154.1,306.2 L156.4,310.2 L152.9,312.9 L155.0,317.0 L151.8,320.0" fill="none" stroke="#178a17" stroke-width="3.0" stroke-linejoin="round" stroke-linecap="round"/>
<path d="M155.7,299.9 L157.6,303.8 L154.1,306.2 L156.4,310.2 L152.9,312.9 L155.0,317.0 L151.8,320.0" fill="none" stroke="#30b830" stroke-width="1.9" stroke-linejoin="round" stroke-linecap="round"/>
<path d="M164.7,321.5L165.6,324.5M164.7,321.5L167.3,319.7M161.1,323.3L157.8,324.8M161.7,327.7L162.4,330.9M161.7,327.7L164.5,326.4M159.1,333.3L162.3,332.2" stroke="#8c8c8c" stroke-width="2.5" fill="none" stroke-linecap="round"/>
<path d="M164.7,321.5L165.6,324.5M164.7,321.5L167.3,319.7M161.1,323.3L157.8,324.8M161.7,327.7L162.4,330.9M161.7,327.7L164.5,326.4M159.1,333.3L162.3,332.2" stroke="#f4f4f4" stroke-width="1.5" fill="none" stroke-linecap="round"/>
<path d="M163.6,317.6 L164.7,321.5 L161.1,323.3 L161.7,327.7 L158.2,329.6 L159.1,333.3" fill="none" stroke="#178a17" stroke-width="3.0" stroke-linejoin="round" stroke-linecap="round"/>
<path d="M163.6,317.6 L164.7,321.5 L161.1,323.3 L161.7,327.7 L158.2,329.6 L159.1,333.3" fill="none" stroke="#30b830" stroke-width="1.9" stroke-linejoin="round" stroke-linecap="round"/>
<path d="M133.2,259.4 L134.2,266 L135.3,271.8 L140.5,276 L148.9,272 L157.3,269.3 L167.8,273.9 L174.1,278.1 L175.2,281.3" fill="none" stroke="#a838a8" stroke-width="2.0" stroke-linecap="round" stroke-linejoin="round"/>
<circle cx="133.2" cy="259.4" r="1.3" fill="#2a3fc8"/><circle cx="175.2" cy="281" r="1.3" fill="#22b022"/>
</g>
<rect x="46.90" y="193.00" width="174.70" height="141.20" fill="none" stroke="#000" stroke-width="2.0" />
<text x="113.00" y="249.60" font-family='"Liberation Sans", sans-serif' font-size="16" font-weight="normal" font-style="normal" text-anchor="start" fill="#111" textLength="33.6" lengthAdjust="spacingAndGlyphs">N-ter</text>
<text x="177.80" y="282.60" font-family='"Liberation Sans", sans-serif' font-size="16" font-weight="normal" font-style="normal" text-anchor="start" fill="#111" textLength="34.2" lengthAdjust="spacingAndGlyphs">C-ter</text>
<text x="195.80" y="216.50" font-family='"Liberation Sans", sans-serif' font-size="13.8" font-weight="bold" font-style="normal" text-anchor="start" fill="#111" >(c)</text>
<rect x="260.51" y="307.30" width="2.40" height="18.80" fill="#f4f4f4" stroke="#000" stroke-width="1.1" />
<rect x="263.23" y="307.30" width="2.40" height="18.80" fill="#8a8a8a" stroke="#000" stroke-width="1.1" />
<rect x="333.79" y="267.82" width="2.40" height="58.28" fill="#8a8a8a" stroke="#000" stroke-width="1.1" />
<rect x="339.22" y="315.57" width="2.40" height="10.53" fill="#f4f4f4" stroke="#000" stroke-width="1.1" />
<rect x="347.36" y="311.06" width="2.40" height="15.04" fill="#8a8a8a" stroke="#000" stroke-width="1.1" />
<rect x="350.08" y="287.00" width="2.40" height="39.10" fill="#8a8a8a" stroke="#000" stroke-width="1.1" />
<rect x="377.22" y="284.74" width="2.40" height="41.36" fill="#8a8a8a" stroke="#000" stroke-width="1.1" />
<rect x="388.07" y="303.54" width="2.40" height="22.56" fill="#f4f4f4" stroke="#000" stroke-width="1.1" />
<rect x="390.79" y="206.53" width="2.40" height="119.57" fill="#8a8a8a" stroke="#000" stroke-width="1.1" />
<rect x="401.64" y="287.37" width="2.40" height="38.73" fill="#8a8a8a" stroke="#000" stroke-width="1.1" />
<rect x="258.40" y="323.60" width="1.20" height="2.00" fill="#000" stroke="none" stroke-width="1" />
<rect x="261.11" y="323.60" width="1.20" height="2.00" fill="#000" stroke="none" stroke-width="1" />
<rect x="263.83" y="323.60" width="1.20" height="2.00" fill="#000" stroke="none" stroke-width="1" />
<rect x="266.54" y="323.60" width="1.20" height="2.00" fill="#000" stroke="none" stroke-width="1" />
<rect x="269.26" y="323.60" width="1.20" height="2.00" fill="#000" stroke="none" stroke-width="1" />
<rect x="271.97" y="323.60" width="1.20" height="2.00" fill="#000" stroke="none" stroke-width="1" />
<rect x="274.68" y="323.60" width="1.20" height="2.00" fill="#000" stroke="none" stroke-width="1" />
<rect x="277.40" y="323.60" width="1.20" height="2.00" fill="#000" stroke="none" stroke-width="1" />
<rect x="280.11" y="323.60" width="1.20" height="2.00" fill="#000" stroke="none" stroke-width="1" />
<rect x="282.83" y="323.60" width="1.20" height="2.00" fill="#000" stroke="none" stroke-width="1" />
<rect x="285.54" y="323.60" width="1.20" height="2.00" fill="#000" stroke="none" stroke-width="1" />
<rect x="288.25" y="323.60" width="1.20" height="2.00" fill="#000" stroke="none" stroke-width="1" />
<rect x="290.97" y="323.60" width="1.20" height="2.00" fill="#000" stroke="none" stroke-width="1" />
<rect x="293.68" y="323.60" width="1.20" height="2.00" fill="#000" stroke="none" stroke-width="1" />
<rect x="296.40" y="323.60" width="1.20" height="2.00" fill="#000" stroke="none" stroke-width="1" />
<rect x="299.11" y="323.60" width="1.20" height="2.00" fill="#000" stroke="none" stroke-width="1" />
<rect x="301.82" y="323.60" width="1.20" height="2.00" fill="#000" stroke="none" stroke-width="1" />
<rect x="304.54" y="323.60" width="1.20" height="2.00" fill="#000" stroke="none" stroke-width="1" />
<rect x="307.25" y="323.60" width="1.20" height="2.00" fill="#000" stroke="none" stroke-width="1" />
<rect x="309.97" y="323.60" width="1.20" height="2.00" fill="#000" stroke="none" stroke-width="1" />
<rect x="312.68" y="323.60" width="1.20" height="2.00" fill="#000" stroke="none" stroke-width="1" />
<rect x="315.39" y="323.60" width="1.20" height="2.00" fill="#000" stroke="none" stroke-width="1" />
<rect x="318.11" y="323.60" width="1.20" height="2.00" fill="#000" stroke="none" stroke-width="1" />
<rect x="320.82" y="323.60" width="1.20" height="2.00" fill="#000" stroke="none" stroke-width="1" />
<rect x="323.54" y="323.60" width="1.20" height="2.00" fill="#000" stroke="none" stroke-width="1" />
<rect x="326.25" y="323.60" width="1.20" height="2.00" fill="#000" stroke="none" stroke-width="1" />
<rect x="328.96" y="323.60" width="1.20" height="2.00" fill="#000" stroke="none" stroke-width="1" />
<rect x="331.68" y="323.60" width="1.20" height="2.00" fill="#000" stroke="none" stroke-width="1" />
<rect x="334.39" y="323.60" width="1.20" height="2.00" fill="#000" stroke="none" stroke-width="1" />
<rect x="337.11" y="323.60" width="1.20" height="2.00" fill="#000" stroke="none" stroke-width="1" />
<rect x="339.82" y="323.60" width="1.20" height="2.00" fill="#000" stroke="none" stroke-width="1" />
<rect x="342.53" y="323.60" width="1.20" height="2.00" fill="#000" stroke="none" stroke-width="1" />
<rect x="345.25" y="323.60" width="1.20" height="2.00" fill="#000" stroke="none" stroke-width="1" />
<rect x="347.96" y="323.60" width="1.20" height="2.00" fill="#000" stroke="none" stroke-width="1" />
<rect x="350.68" y="323.60" width="1.20" height="2.00" fill="#000" stroke="none" stroke-width="1" />
<rect x="353.39" y="323.60" width="1.20" height="2.00" fill="#000" stroke="none" stroke-width="1" />
<rect x="356.10" y="323.60" width="1.20" height="2.00" fill="#000" stroke="none" stroke-width="1" />
<rect x="358.82" y="323.60" width="1.20" height="2.00" fill="#000" stroke="none" stroke-width="1" />
<rect x="361.53" y="323.60" width="1.20" height="2.00" fill="#000" stroke="none" stroke-width="1" />
<rect x="364.25" y="323.60" width="1.20" height="2.00" fill="#000" stroke="none" stroke-width="1" />
<rect x="366.96" y="323.60" width="1.20" height="2.00" fill="#000" stroke="none" stroke-width="1" />
<rect x="369.67" y="323.60" width="1.20" height="2.00" fill="#000" stroke="none" stroke-width="1" />
<rect x="372.39" y="323.60" width="1.20" height="2.00" fill="#000" stroke="none" stroke-width="1" />
<rect x="375.10" y="323.60" width="1.20" height="2.00" fill="#000" stroke="none" stroke-width="1" />
<rect x="377.82" y="323.60" width="1.20" height="2.00" fill="#000" stroke="none" stroke-width="1" />
<rect x="380.53" y="323.60" width="1.20" height="2.00" fill="#000" stroke="none" stroke-width="1" />
<rect x="383.24" y="323.60" width="1.20" height="2.00" fill="#000" stroke="none" stroke-width="1" />
<rect x="385.96" y="323.60" width="1.20" height="2.00" fill="#000" stroke="none" stroke-width="1" />
<rect x="388.67" y="323.60" width="1.20" height="2.00" fill="#000" stroke="none" stroke-width="1" />
<rect x="391.39" y="323.60" width="1.20" height="2.00" fill="#000" stroke="none" stroke-width="1" />
<rect x="394.10" y="323.60" width="1.20" height="2.00" fill="#000" stroke="none" stroke-width="1" />
<rect x="396.81" y="323.60" width="1.20" height="2.00" fill="#000" stroke="none" stroke-width="1" />
<rect x="399.53" y="323.60" width="1.20" height="2.00" fill="#000" stroke="none" stroke-width="1" />
<rect x="402.24" y="323.60" width="1.20" height="2.00" fill="#000" stroke="none" stroke-width="1" />
<rect x="404.96" y="323.60" width="1.20" height="2.00" fill="#000" stroke="none" stroke-width="1" />
<rect x="407.67" y="323.60" width="1.20" height="2.00" fill="#000" stroke="none" stroke-width="1" />
<rect x="410.38" y="323.60" width="1.20" height="2.00" fill="#000" stroke="none" stroke-width="1" />
<rect x="413.10" y="323.60" width="1.20" height="2.00" fill="#000" stroke="none" stroke-width="1" />
<rect x="415.81" y="323.60" width="1.20" height="2.00" fill="#000" stroke="none" stroke-width="1" />
<rect x="418.53" y="323.60" width="1.20" height="2.00" fill="#000" stroke="none" stroke-width="1" />
<rect x="421.24" y="323.60" width="1.20" height="2.00" fill="#000" stroke="none" stroke-width="1" />
<rect x="423.95" y="323.60" width="1.20" height="2.00" fill="#000" stroke="none" stroke-width="1" />
<rect x="258.80" y="192.40" width="168.20" height="133.70" fill="none" stroke="#000" stroke-width="2.1" />
<line x1="258.80" y1="325.60" x2="262.80" y2="325.60" stroke="#000" stroke-width="1.5"/>
<line x1="258.80" y1="306.80" x2="261.30" y2="306.80" stroke="#000" stroke-width="1.5"/>
<line x1="258.80" y1="288.00" x2="262.80" y2="288.00" stroke="#000" stroke-width="1.5"/>
<line x1="258.80" y1="269.20" x2="261.30" y2="269.20" stroke="#000" stroke-width="1.5"/>
<line x1="258.80" y1="250.40" x2="262.80" y2="250.40" stroke="#000" stroke-width="1.5"/>
<line x1="258.80" y1="231.60" x2="261.30" y2="231.60" stroke="#000" stroke-width="1.5"/>
<line x1="258.80" y1="212.80" x2="262.80" y2="212.80" stroke="#000" stroke-width="1.5"/>
<text x="255.60" y="330.00" font-family='"Liberation Sans", sans-serif' font-size="12.0" font-weight="bold" font-style="normal" text-anchor="end" fill="#3a3a3a" >0.0</text>
<text x="255.60" y="292.40" font-family='"Liberation Sans", sans-serif' font-size="12.0" font-weight="bold" font-style="normal" text-anchor="end" fill="#3a3a3a" >0.1</text>
<text x="255.60" y="254.80" font-family='"Liberation Sans", sans-serif' font-size="12.0" font-weight="bold" font-style="normal" text-anchor="end" fill="#3a3a3a" >0.2</text>
<text x="255.60" y="217.20" font-family='"Liberation Sans", sans-serif' font-size="12.0" font-weight="bold" font-style="normal" text-anchor="end" fill="#3a3a3a" >0.3</text>
<text x="259.00" y="341.80" font-family='"Liberation Sans", sans-serif' font-size="12.3" font-weight="bold" font-style="normal" text-anchor="middle" fill="#3a3a3a" >0</text>
<text x="286.14" y="341.80" font-family='"Liberation Sans", sans-serif' font-size="12.3" font-weight="bold" font-style="normal" text-anchor="middle" fill="#3a3a3a" >10</text>
<text x="313.28" y="341.80" font-family='"Liberation Sans", sans-serif' font-size="12.3" font-weight="bold" font-style="normal" text-anchor="middle" fill="#3a3a3a" >20</text>
<text x="340.42" y="341.80" font-family='"Liberation Sans", sans-serif' font-size="12.3" font-weight="bold" font-style="normal" text-anchor="middle" fill="#3a3a3a" >30</text>
<text x="367.56" y="341.80" font-family='"Liberation Sans", sans-serif' font-size="12.3" font-weight="bold" font-style="normal" text-anchor="middle" fill="#3a3a3a" >40</text>
<text x="394.70" y="341.80" font-family='"Liberation Sans", sans-serif' font-size="12.3" font-weight="bold" font-style="normal" text-anchor="middle" fill="#3a3a3a" >50</text>
<text x="421.84" y="341.80" font-family='"Liberation Sans", sans-serif' font-size="12.3" font-weight="bold" font-style="normal" text-anchor="middle" fill="#3a3a3a" >60</text>
<text x="340.50" y="357.50" font-family='"Liberation Serif", serif' font-size="15" font-weight="normal" font-style="italic" text-anchor="middle" fill="#222" >ligand − index</text>
<g transform="translate(238.60,289.60) rotate(-90)" font-family='"Liberation Sans", sans-serif' font-style="italic" fill="#1a1a1a" stroke="#1a1a1a" stroke-width="0.3"><text x="0" y="0" font-size="14.3" letter-spacing="0.4">P(close</text><text x="50.6" y="2.6" font-size="10" letter-spacing="0.3">H3</text><text x="47.6" y="-9.3" font-size="11" letter-spacing="1.4" font-family='"Liberation Serif", serif'>lig</text><text x="63.6" y="0" font-size="14.3">)</text></g>
<text x="406.60" y="223.20" font-family='"Liberation Sans", sans-serif' font-size="13.8" font-weight="bold" font-style="normal" text-anchor="start" fill="#111" >(d)</text>
<rect x="49.0" y="397.40" width="171.00" height="3" fill="#22c4e0"/>
<rect x="49.0" y="395.27" width="171.00" height="2.8" fill="#1f4fa8"/>
<circle cx="130.00" cy="399.50" r="1.50" fill="#fff" />
<circle cx="60.80" cy="387.78" r="1.75" fill="#1fb01f" />
<circle cx="63.10" cy="387.78" r="1.75" fill="#1fb01f" />
<circle cx="65.40" cy="387.78" r="1.75" fill="#1fb01f" />
<circle cx="92.80" cy="387.78" r="1.75" fill="#1fb01f" />
<circle cx="95.00" cy="387.78" r="1.75" fill="#1fb01f" />
<circle cx="101.20" cy="387.78" r="1.75" fill="#1fb01f" />
<circle cx="103.25" cy="387.78" r="1.75" fill="#1fb01f" />
<circle cx="105.30" cy="387.78" r="1.75" fill="#1fb01f" />
<circle cx="152.20" cy="387.78" r="1.75" fill="#1fb01f" />
<circle cx="154.37" cy="387.78" r="1.75" fill="#1fb01f" />
<circle cx="156.54" cy="387.78" r="1.75" fill="#1fb01f" />
<circle cx="158.71" cy="387.78" r="1.75" fill="#1fb01f" />
<circle cx="160.88" cy="387.78" r="1.75" fill="#1fb01f" />
<circle cx="163.05" cy="387.78" r="1.75" fill="#1fb01f" />
<circle cx="165.23" cy="387.78" r="1.75" fill="#1fb01f" />
<circle cx="167.40" cy="387.78" r="1.75" fill="#1fb01f" />
<circle cx="169.57" cy="387.78" r="1.75" fill="#1fb01f" />
<circle cx="171.74" cy="387.78" r="1.75" fill="#1fb01f" />
<circle cx="173.91" cy="387.78" r="1.75" fill="#1fb01f" />
<circle cx="176.08" cy="387.78" r="1.75" fill="#1fb01f" />
<circle cx="178.25" cy="387.78" r="1.75" fill="#1fb01f" />
<circle cx="180.42" cy="387.78" r="1.75" fill="#1fb01f" />
<circle cx="182.59" cy="387.78" r="1.75" fill="#1fb01f" />
<circle cx="184.76" cy="387.78" r="1.75" fill="#1fb01f" />
<circle cx="186.94" cy="387.78" r="1.75" fill="#1fb01f" />
<circle cx="189.11" cy="387.78" r="1.75" fill="#1fb01f" />
<circle cx="191.28" cy="387.78" r="1.75" fill="#1fb01f" />
<circle cx="193.45" cy="387.78" r="1.75" fill="#1fb01f" />
<circle cx="195.62" cy="387.78" r="1.75" fill="#1fb01f" />
<circle cx="197.79" cy="387.78" r="1.75" fill="#1fb01f" />
<circle cx="199.96" cy="387.78" r="1.75" fill="#1fb01f" />
<circle cx="202.13" cy="387.78" r="1.75" fill="#1fb01f" />
<circle cx="204.30" cy="387.78" r="1.75" fill="#1fb01f" />
<circle cx="206.47" cy="387.78" r="1.75" fill="#1fb01f" />
<circle cx="208.65" cy="387.78" r="1.75" fill="#1fb01f" />
<circle cx="210.82" cy="387.78" r="1.75" fill="#1fb01f" />
<circle cx="212.99" cy="387.78" r="1.75" fill="#1fb01f" />
<circle cx="215.16" cy="387.78" r="1.75" fill="#1fb01f" />
<circle cx="217.33" cy="387.78" r="1.75" fill="#1fb01f" />
<circle cx="219.50" cy="387.78" r="1.75" fill="#1fb01f" />
<circle cx="119.00" cy="392.23" r="1.75" fill="#000000" />
<circle cx="120.00" cy="392.23" r="1.75" fill="#000000" />
<circle cx="153.40" cy="392.23" r="1.75" fill="#000000" />
<circle cx="160.20" cy="392.23" r="1.75" fill="#000000" />
<circle cx="188.30" cy="392.23" r="1.75" fill="#000000" />
<circle cx="190.67" cy="392.23" r="1.75" fill="#000000" />
<circle cx="193.03" cy="392.23" r="1.75" fill="#000000" />
<circle cx="195.40" cy="392.23" r="1.75" fill="#000000" />
<circle cx="159.00" cy="390.00" r="1.75" fill="#ff1a1a" />
<circle cx="186.60" cy="390.00" r="1.75" fill="#ff1a1a" />
<circle cx="65.40" cy="405.57" r="1.75" fill="#c040b8" />
<circle cx="69.20" cy="405.57" r="1.75" fill="#c040b8" />
<circle cx="73.00" cy="405.57" r="1.75" fill="#c040b8" />
<circle cx="76.80" cy="405.57" r="1.75" fill="#c040b8" />
<circle cx="82.50" cy="405.57" r="1.75" fill="#c040b8" />
<circle cx="86.00" cy="405.57" r="1.75" fill="#c040b8" />
<circle cx="90.50" cy="405.57" r="1.75" fill="#c040b8" />
<circle cx="93.25" cy="405.57" r="1.75" fill="#c040b8" />
<circle cx="96.00" cy="405.57" r="1.75" fill="#c040b8" />
<circle cx="102.60" cy="405.57" r="1.75" fill="#c040b8" />
<circle cx="112.00" cy="405.57" r="1.75" fill="#c040b8" />
<circle cx="115.50" cy="405.57" r="1.75" fill="#c040b8" />
<circle cx="119.00" cy="405.57" r="1.75" fill="#c040b8" />
<circle cx="122.50" cy="405.57" r="1.75" fill="#c040b8" />
<circle cx="126.00" cy="405.57" r="1.75" fill="#c040b8" />
<circle cx="135.00" cy="405.57" r="1.75" fill="#c040b8" />
<circle cx="138.75" cy="405.57" r="1.75" fill="#c040b8" />
<circle cx="142.50" cy="405.57" r="1.75" fill="#c040b8" />
<circle cx="146.25" cy="405.57" r="1.75" fill="#c040b8" />
<circle cx="150.00" cy="405.57" r="1.75" fill="#c040b8" />
<circle cx="155.00" cy="405.57" r="1.75" fill="#c040b8" />
<circle cx="159.50" cy="405.57" r="1.75" fill="#c040b8" />
<circle cx="164.00" cy="405.57" r="1.75" fill="#c040b8" />
<circle cx="211.70" cy="405.57" r="1.75" fill="#c040b8" />
<circle cx="215.45" cy="405.57" r="1.75" fill="#c040b8" />
<circle cx="219.20" cy="405.57" r="1.75" fill="#c040b8" />
<circle cx="56.30" cy="407.79" r="1.75" fill="#f2e400" />
<circle cx="58.51" cy="407.79" r="1.75" fill="#f2e400" />
<circle cx="60.71" cy="407.79" r="1.75" fill="#f2e400" />
<circle cx="62.92" cy="407.79" r="1.75" fill="#f2e400" />
<circle cx="65.12" cy="407.79" r="1.75" fill="#f2e400" />
<circle cx="67.33" cy="407.79" r="1.75" fill="#f2e400" />
<circle cx="69.54" cy="407.79" r="1.75" fill="#f2e400" />
<circle cx="71.74" cy="407.79" r="1.75" fill="#f2e400" />
<circle cx="73.95" cy="407.79" r="1.75" fill="#f2e400" />
<circle cx="76.15" cy="407.79" r="1.75" fill="#f2e400" />
<circle cx="78.36" cy="407.79" r="1.75" fill="#f2e400" />
<circle cx="80.56" cy="407.79" r="1.75" fill="#f2e400" />
<circle cx="82.77" cy="407.79" r="1.75" fill="#f2e400" />
<circle cx="84.98" cy="407.79" r="1.75" fill="#f2e400" />
<circle cx="87.18" cy="407.79" r="1.75" fill="#f2e400" />
<circle cx="89.39" cy="407.79" r="1.75" fill="#f2e400" />
<circle cx="91.59" cy="407.79" r="1.75" fill="#f2e400" />
<circle cx="93.80" cy="407.79" r="1.75" fill="#f2e400" />
<circle cx="96.01" cy="407.79" r="1.75" fill="#f2e400" />
<circle cx="98.21" cy="407.79" r="1.75" fill="#f2e400" />
<circle cx="100.42" cy="407.79" r="1.75" fill="#f2e400" />
<circle cx="102.62" cy="407.79" r="1.75" fill="#f2e400" />
<circle cx="104.83" cy="407.79" r="1.75" fill="#f2e400" />
<circle cx="107.04" cy="407.79" r="1.75" fill="#f2e400" />
<circle cx="109.24" cy="407.79" r="1.75" fill="#f2e400" />
<circle cx="111.45" cy="407.79" r="1.75" fill="#f2e400" />
<circle cx="113.65" cy="407.79" r="1.75" fill="#f2e400" />
<circle cx="115.86" cy="407.79" r="1.75" fill="#f2e400" />
<circle cx="118.06" cy="407.79" r="1.75" fill="#f2e400" />
<circle cx="120.27" cy="407.79" r="1.75" fill="#f2e400" />
<circle cx="122.48" cy="407.79" r="1.75" fill="#f2e400" />
<circle cx="124.68" cy="407.79" r="1.75" fill="#f2e400" />
<circle cx="126.89" cy="407.79" r="1.75" fill="#f2e400" />
<circle cx="129.09" cy="407.79" r="1.75" fill="#f2e400" />
<circle cx="131.30" cy="407.79" r="1.75" fill="#f2e400" />
<circle cx="157.70" cy="407.79" r="1.75" fill="#f2e400" />
<circle cx="160.20" cy="407.79" r="1.75" fill="#f2e400" />
<circle cx="162.70" cy="407.79" r="1.75" fill="#f2e400" />
<circle cx="167.70" cy="407.79" r="1.75" fill="#f2e400" />
<circle cx="189.00" cy="407.79" r="1.75" fill="#f2e400" />
<circle cx="203.00" cy="407.79" r="1.75" fill="#f2e400" />
<circle cx="97.40" cy="412.23" r="1.75" fill="#7a7a14" />
<circle cx="99.38" cy="412.23" r="1.75" fill="#7a7a14" />
<circle cx="101.35" cy="412.23" r="1.75" fill="#7a7a14" />
<circle cx="103.33" cy="412.23" r="1.75" fill="#7a7a14" />
<circle cx="105.30" cy="412.23" r="1.75" fill="#7a7a14" />
<circle cx="107.60" cy="412.23" r="1.75" fill="#7a7a14" />
<circle cx="110.07" cy="412.23" r="1.75" fill="#7a7a14" />
<circle cx="112.53" cy="412.23" r="1.75" fill="#7a7a14" />
<circle cx="115.00" cy="412.23" r="1.75" fill="#7a7a14" />
<circle cx="154.00" cy="412.23" r="1.75" fill="#7a7a14" />
<circle cx="156.20" cy="412.23" r="1.75" fill="#7a7a14" />
<circle cx="158.40" cy="412.23" r="1.75" fill="#7a7a14" />
<circle cx="160.60" cy="412.23" r="1.75" fill="#7a7a14" />
<circle cx="162.80" cy="412.23" r="1.75" fill="#7a7a14" />
<circle cx="165.00" cy="412.23" r="1.75" fill="#7a7a14" />
<circle cx="206.70" cy="412.23" r="1.75" fill="#7a7a14" />
<circle cx="208.70" cy="412.23" r="1.75" fill="#7a7a14" />
<circle cx="210.70" cy="412.23" r="1.75" fill="#7a7a14" />
<circle cx="212.70" cy="412.23" r="1.75" fill="#7a7a14" />
<circle cx="214.70" cy="412.23" r="1.75" fill="#7a7a14" />
<circle cx="216.70" cy="412.23" r="1.75" fill="#7a7a14" />
<circle cx="210.00" cy="414.46" r="1.75" fill="#1a3488" />
<rect x="49.00" y="372.20" width="171.00" height="133.10" fill="none" stroke="#000" stroke-width="1.9" />
<line x1="49.00" y1="505.60" x2="54.00" y2="505.60" stroke="#000" stroke-width="1.3"/>
<line x1="49.00" y1="494.49" x2="52.00" y2="494.49" stroke="#000" stroke-width="1.3"/>
<line x1="49.00" y1="483.37" x2="52.00" y2="483.37" stroke="#000" stroke-width="1.3"/>
<line x1="49.00" y1="472.25" x2="52.00" y2="472.25" stroke="#000" stroke-width="1.3"/>
<line x1="49.00" y1="461.14" x2="54.00" y2="461.14" stroke="#000" stroke-width="1.3"/>
<line x1="49.00" y1="450.03" x2="52.00" y2="450.03" stroke="#000" stroke-width="1.3"/>
<line x1="49.00" y1="438.91" x2="52.00" y2="438.91" stroke="#000" stroke-width="1.3"/>
<line x1="49.00" y1="427.80" x2="52.00" y2="427.80" stroke="#000" stroke-width="1.3"/>
<line x1="49.00" y1="416.68" x2="54.00" y2="416.68" stroke="#000" stroke-width="1.3"/>
<line x1="49.00" y1="405.57" x2="52.00" y2="405.57" stroke="#000" stroke-width="1.3"/>
<line x1="49.00" y1="394.45" x2="52.00" y2="394.45" stroke="#000" stroke-width="1.3"/>
<line x1="49.00" y1="383.34" x2="52.00" y2="383.34" stroke="#000" stroke-width="1.3"/>
<line x1="49.00" y1="372.22" x2="54.00" y2="372.22" stroke="#000" stroke-width="1.3"/>
<line x1="65.97" y1="505.30" x2="65.97" y2="502.30" stroke="#000" stroke-width="1.2"/>
<line x1="83.14" y1="505.30" x2="83.14" y2="502.30" stroke="#000" stroke-width="1.2"/>
<line x1="100.31" y1="505.30" x2="100.31" y2="502.30" stroke="#000" stroke-width="1.2"/>
<line x1="117.48" y1="505.30" x2="117.48" y2="502.30" stroke="#000" stroke-width="1.2"/>
<line x1="134.65" y1="505.30" x2="134.65" y2="502.30" stroke="#000" stroke-width="1.2"/>
<line x1="151.82" y1="505.30" x2="151.82" y2="502.30" stroke="#000" stroke-width="1.2"/>
<line x1="168.99" y1="505.30" x2="168.99" y2="502.30" stroke="#000" stroke-width="1.2"/>
<line x1="186.16" y1="505.30" x2="186.16" y2="502.30" stroke="#000" stroke-width="1.2"/>
<line x1="203.33" y1="505.30" x2="203.33" y2="502.30" stroke="#000" stroke-width="1.2"/>
<text x="46.60" y="510.40" font-family='"Liberation Sans", sans-serif' font-size="13.4" font-weight="bold" font-style="normal" text-anchor="end" fill="#3a3a3a" >0</text>
<text x="46.60" y="465.94" font-family='"Liberation Sans", sans-serif' font-size="13.4" font-weight="bold" font-style="normal" text-anchor="end" fill="#3a3a3a" >20</text>
<text x="46.60" y="421.48" font-family='"Liberation Sans", sans-serif' font-size="13.4" font-weight="bold" font-style="normal" text-anchor="end" fill="#3a3a3a" >40</text>
<text x="46.60" y="377.02" font-family='"Liberation Sans", sans-serif' font-size="13.4" font-weight="bold" font-style="normal" text-anchor="end" fill="#3a3a3a" >60</text>
<text x="48.80" y="521.20" font-family='"Liberation Sans", sans-serif' font-size="13.4" font-weight="bold" font-style="normal" text-anchor="middle" fill="#3a3a3a" >500</text>
<text x="134.65" y="521.20" font-family='"Liberation Sans", sans-serif' font-size="13.4" font-weight="bold" font-style="normal" text-anchor="middle" fill="#3a3a3a" >1 000</text>
<text x="220.50" y="521.20" font-family='"Liberation Sans", sans-serif' font-size="13.4" font-weight="bold" font-style="normal" text-anchor="middle" fill="#3a3a3a" >1 500</text>
<text x="130.2" y="542.2" text-anchor="middle" font-family='"Liberation Serif", serif' font-size="16" fill="#222" letter-spacing="0.6"><tspan font-style="italic">t</tspan>(<tspan font-style="italic">ns</tspan>)</text>
<g transform="translate(21.00,483.60) rotate(-90)" font-family='"Liberation Sans", sans-serif' font-style="italic" fill="#1a1a1a" stroke="#1a1a1a" stroke-width="0.3"><text x="0" y="0" font-size="14.3" letter-spacing="0.4">P(close</text><text x="50.6" y="2.6" font-size="10" letter-spacing="0.3">H3</text><text x="47.6" y="-9.3" font-size="11" letter-spacing="1.4" font-family='"Liberation Serif", serif'>lig</text><text x="63.6" y="0" font-size="14.3">)</text></g>
<circle cx="55.80" cy="425.00" r="1.60" fill="#000000" />
<text x="65.40" y="428.60" font-family='"Liberation Sans", sans-serif' font-size="10" font-weight="bold" font-style="normal" text-anchor="start" fill="#111" >51</text>
<circle cx="55.80" cy="436.24" r="1.60" fill="#ff1a1a" />
<text x="65.40" y="439.84" font-family='"Liberation Sans", sans-serif' font-size="10" font-weight="bold" font-style="normal" text-anchor="start" fill="#111" >52</text>
<circle cx="55.80" cy="447.48" r="1.60" fill="#1fb01f" />
<text x="65.40" y="451.08" font-family='"Liberation Sans", sans-serif' font-size="10" font-weight="bold" font-style="normal" text-anchor="start" fill="#111" >53</text>
<circle cx="55.80" cy="458.72" r="1.60" fill="#1f4fa8" />
<text x="67.70" y="462.32" font-family='"Liberation Sans", sans-serif' font-size="10" font-weight="bold" font-style="normal" text-anchor="start" fill="#111" >49</text>
<circle cx="55.80" cy="469.96" r="1.60" fill="#22c4e0" />
<text x="67.70" y="473.56" font-family='"Liberation Sans", sans-serif' font-size="10" font-weight="bold" font-style="normal" text-anchor="start" fill="#111" >48</text>
<circle cx="55.80" cy="481.20" r="1.60" fill="#c040b8" />
<text x="67.70" y="484.80" font-family='"Liberation Sans", sans-serif' font-size="10" font-weight="bold" font-style="normal" text-anchor="start" fill="#111" >45</text>
<circle cx="87.10" cy="425.00" r="1.60" fill="#f2e400" />
<text x="98.00" y="428.60" font-family='"Liberation Sans", sans-serif' font-size="10" font-weight="bold" font-style="normal" text-anchor="start" fill="#111" >44</text>
<circle cx="87.10" cy="436.24" r="1.60" fill="#7a7a14" />
<text x="98.00" y="439.84" font-family='"Liberation Sans", sans-serif' font-size="10" font-weight="bold" font-style="normal" text-anchor="start" fill="#111" >42</text>
<circle cx="87.10" cy="447.48" r="1.60" fill="#1a3488" />
<text x="98.00" y="451.08" font-family='"Liberation Sans", sans-serif' font-size="10" font-weight="bold" font-style="normal" text-anchor="start" fill="#111" >41</text>
<text x="178.00" y="422.80" font-family='"Liberation Sans", sans-serif' font-size="14.5" font-weight="bold" font-style="normal" text-anchor="start" fill="#111" >(e)</text>
<g clip-path="url(#clipf)">
<path d="M265.7,479.6L266.3,476.1M265.5,484.0L262.4,483.1M269.2,483.6L271.6,480.8M269.2,483.6L267.4,480.9M272.4,486.8L273.5,489.5M276.8,484.8L276.1,482.0M278.2,488.6L274.5,488.6M282.2,488.2L284.7,486.3M284.9,491.4L282.4,494.1M288.6,490.1L291.6,488.7M288.6,490.1L286.1,487.6M295.6,491.6L298.6,490.1M295.6,491.6L293.7,488.8M298.1,494.5L295.6,496.6M302.2,492.8L305.3,491.7" stroke="#8c8c8c" stroke-width="2.5" fill="none" stroke-linecap="round"/>
<path d="M265.7,479.6L266.3,476.1M265.5,484.0L262.4,483.1M269.2,483.6L271.6,480.8M269.2,483.6L267.4,480.9M272.4,486.8L273.5,489.5M276.8,484.8L276.1,482.0M278.2,488.6L274.5,488.6M282.2,488.2L284.7,486.3M284.9,491.4L282.4,494.1M288.6,490.1L291.6,488.7M288.6,490.1L286.1,487.6M295.6,491.6L298.6,490.1M295.6,491.6L293.7,488.8M298.1,494.5L295.6,496.6M302.2,492.8L305.3,491.7" stroke="#f4f4f4" stroke-width="1.5" fill="none" stroke-linecap="round"/>
<path d="M261.9,477.7 L265.7,479.6 L265.5,484.0 L269.2,483.6 L272.4,486.8 L276.8,484.8 L278.2,488.6 L282.2,488.2 L284.9,491.4 L288.6,490.1 L291.6,493.5 L295.6,491.6 L298.1,494.5 L302.2,492.8" fill="none" stroke="#178a17" stroke-width="3.0" stroke-linejoin="round" stroke-linecap="round"/>
<path d="M261.9,477.7 L265.7,479.6 L265.5,484.0 L269.2,483.6 L272.4,486.8 L276.8,484.8 L278.2,488.6 L282.2,488.2 L284.9,491.4 L288.6,490.1 L291.6,493.5 L295.6,491.6 L298.1,494.5 L302.2,492.8" fill="none" stroke="#30b830" stroke-width="1.9" stroke-linejoin="round" stroke-linecap="round"/>
<path d="M263.2,477.3L260.2,477.8M263.2,477.3L261.2,475.1M263.2,477.3L264.6,474.6" stroke="#8c8c8c" stroke-width="2.5" fill="none" stroke-linecap="round"/>
<path d="M263.2,477.3L260.2,477.8M263.2,477.3L261.2,475.1M263.2,477.3L264.6,474.6" stroke="#f4f4f4" stroke-width="1.5" fill="none" stroke-linecap="round"/>
<circle cx="263.2" cy="477.3" r="1.6" fill="#2a40c0"/>
<path d="M267.5,496.2L265.9,499.0M267.5,496.2L270.9,497.1M270.0,492.9L271.1,490.0M273.5,494.6L271.8,497.0M273.5,494.6L276.3,496.1M276.8,491.6L275.4,488.4M279.3,494.9L275.9,496.0M279.3,494.9L281.4,497.8M283.1,493.4L286.2,492.7M283.1,493.4L282.3,490.3M284.9,497.0L282.1,498.5M284.9,497.0L285.6,500.0M288.7,495.7L287.7,492.7M295.5,496.8L298.0,494.9M297.7,500.3L295.0,501.9M297.7,500.3L298.8,503.7" stroke="#8c8c8c" stroke-width="2.5" fill="none" stroke-linecap="round"/>
<path d="M267.5,496.2L265.9,499.0M267.5,496.2L270.9,497.1M270.0,492.9L271.1,490.0M273.5,494.6L271.8,497.0M273.5,494.6L276.3,496.1M276.8,491.6L275.4,488.4M279.3,494.9L275.9,496.0M279.3,494.9L281.4,497.8M283.1,493.4L286.2,492.7M283.1,493.4L282.3,490.3M284.9,497.0L282.1,498.5M284.9,497.0L285.6,500.0M288.7,495.7L287.7,492.7M295.5,496.8L298.0,494.9M297.7,500.3L295.0,501.9M297.7,500.3L298.8,503.7" stroke="#f4f4f4" stroke-width="1.5" fill="none" stroke-linecap="round"/>
<path d="M261.4,498.3 L263.5,494.6 L267.5,496.2 L270.0,492.9 L273.5,494.6 L276.8,491.6 L279.3,494.9 L283.1,493.4 L284.9,497.0 L288.7,495.7 L291.2,499.0 L295.5,496.8 L297.7,500.3" fill="none" stroke="#178a17" stroke-width="3.0" stroke-linejoin="round" stroke-linecap="round"/>
<path d="M261.4,498.3 L263.5,494.6 L267.5,496.2 L270.0,492.9 L273.5,494.6 L276.8,491.6 L279.3,494.9 L283.1,493.4 L284.9,497.0 L288.7,495.7 L291.2,499.0 L295.5,496.8 L297.7,500.3" fill="none" stroke="#30b830" stroke-width="1.9" stroke-linejoin="round" stroke-linecap="round"/>
<path d="M261.0,497.0L260.1,499.9M261.0,497.0L258.4,498.5M261.0,497.0L258.7,495.0" stroke="#8c8c8c" stroke-width="2.5" fill="none" stroke-linecap="round"/>
<path d="M261.0,497.0L260.1,499.9M261.0,497.0L258.4,498.5M261.0,497.0L258.7,495.0" stroke="#f4f4f4" stroke-width="1.5" fill="none" stroke-linecap="round"/>
<circle cx="261.0" cy="497.0" r="1.6" fill="#2a40c0"/>
<path d="M281.3,473.5L283.7,471.8M281.3,473.5L278.4,471.3M283.8,476.2L281.3,478.8M287.8,474.2L290.5,472.7M287.8,474.2L286.5,471.4M289.7,478.0L291.2,480.7M293.3,478.3L294.0,475.2M292.7,482.7L289.2,481.9M292.7,482.7L292.5,485.7M296.9,484.1L300.4,485.1M296.9,484.1L297.5,481.0M296.1,488.3L292.9,487.8M296.1,488.3L295.3,491.2M300.7,489.1L304.3,489.1M300.0,493.5L296.6,492.4M300.0,493.5L300.3,496.7M303.6,495.5L306.4,497.7M303.6,495.5L305.6,492.5M302.2,499.0L299.4,498.1M302.2,499.0L300.9,502.1M305.3,501.5L308.5,502.4M305.3,501.5L306.5,498.2" stroke="#8c8c8c" stroke-width="2.5" fill="none" stroke-linecap="round"/>
<path d="M281.3,473.5L283.7,471.8M281.3,473.5L278.4,471.3M283.8,476.2L281.3,478.8M287.8,474.2L290.5,472.7M287.8,474.2L286.5,471.4M289.7,478.0L291.2,480.7M293.3,478.3L294.0,475.2M292.7,482.7L289.2,481.9M292.7,482.7L292.5,485.7M296.9,484.1L300.4,485.1M296.9,484.1L297.5,481.0M296.1,488.3L292.9,487.8M296.1,488.3L295.3,491.2M300.7,489.1L304.3,489.1M300.0,493.5L296.6,492.4M300.0,493.5L300.3,496.7M303.6,495.5L306.4,497.7M303.6,495.5L305.6,492.5M302.2,499.0L299.4,498.1M302.2,499.0L300.9,502.1M305.3,501.5L308.5,502.4M305.3,501.5L306.5,498.2" stroke="#f4f4f4" stroke-width="1.5" fill="none" stroke-linecap="round"/>
<path d="M277.3,475.3 L281.3,473.5 L283.8,476.2 L287.8,474.2 L289.7,478.0 L293.3,478.3 L292.7,482.7 L296.9,484.1 L296.1,488.3 L300.7,489.1 L300.0,493.5 L303.6,495.5 L302.2,499.0 L305.3,501.5" fill="none" stroke="#178a17" stroke-width="3.0" stroke-linejoin="round" stroke-linecap="round"/>
<path d="M277.3,475.3 L281.3,473.5 L283.8,476.2 L287.8,474.2 L289.7,478.0 L293.3,478.3 L292.7,482.7 L296.9,484.1 L296.1,488.3 L300.7,489.1 L300.0,493.5 L303.6,495.5 L302.2,499.0 L305.3,501.5" fill="none" stroke="#30b830" stroke-width="1.9" stroke-linejoin="round" stroke-linecap="round"/>
<path d="M277.6,474.2L275.7,476.5M277.6,474.2L274.7,473.7M277.6,474.2L277.1,471.2" stroke="#8c8c8c" stroke-width="2.5" fill="none" stroke-linecap="round"/>
<path d="M277.6,474.2L275.7,476.5M277.6,474.2L274.7,473.7M277.6,474.2L277.1,471.2" stroke="#f4f4f4" stroke-width="1.5" fill="none" stroke-linecap="round"/>
<circle cx="277.6" cy="474.2" r="1.6" fill="#2a40c0"/>
<path d="M295.6,442.5L299.0,442.8M295.5,446.6L292.7,445.6M295.5,446.6L294.1,449.9M299.2,448.2L300.5,445.2M300.4,458.7L297.0,457.2M300.4,458.7L299.5,461.5M303.6,460.6L306.6,462.2M303.6,460.6L304.7,457.4M303.1,464.7L299.6,463.7M307.1,466.1L310.4,466.3M307.1,466.1L308.2,463.3M306.1,470.2L303.4,469.3M310.0,472.3L313.0,473.2M310.0,472.3L311.4,469.1M309.4,476.2L305.8,476.5M313.6,477.4L317.2,477.9M313.6,477.4L313.8,474.5M313.6,481.5L310.7,481.3M317.4,482.4L320.5,483.0M317.4,482.4L318.1,479.5" stroke="#8c8c8c" stroke-width="2.5" fill="none" stroke-linecap="round"/>
<path d="M295.6,442.5L299.0,442.8M295.5,446.6L292.7,445.6M295.5,446.6L294.1,449.9M299.2,448.2L300.5,445.2M300.4,458.7L297.0,457.2M300.4,458.7L299.5,461.5M303.6,460.6L306.6,462.2M303.6,460.6L304.7,457.4M303.1,464.7L299.6,463.7M307.1,466.1L310.4,466.3M307.1,466.1L308.2,463.3M306.1,470.2L303.4,469.3M310.0,472.3L313.0,473.2M310.0,472.3L311.4,469.1M309.4,476.2L305.8,476.5M313.6,477.4L317.2,477.9M313.6,477.4L313.8,474.5M313.6,481.5L310.7,481.3M317.4,482.4L320.5,483.0M317.4,482.4L318.1,479.5" stroke="#f4f4f4" stroke-width="1.5" fill="none" stroke-linecap="round"/>
<path d="M292.0,440.7 L295.6,442.5 L295.5,446.6 L299.2,448.2 L298.0,452.4 L301.7,454.7 L300.4,458.7 L303.6,460.6 L303.1,464.7 L307.1,466.1 L306.1,470.2 L310.0,472.3 L309.4,476.2 L313.6,477.4 L313.6,481.5 L317.4,482.4" fill="none" stroke="#178a17" stroke-width="3.0" stroke-linejoin="round" stroke-linecap="round"/>
<path d="M292.0,440.7 L295.6,442.5 L295.5,446.6 L299.2,448.2 L298.0,452.4 L301.7,454.7 L300.4,458.7 L303.6,460.6 L303.1,464.7 L307.1,466.1 L306.1,470.2 L310.0,472.3 L309.4,476.2 L313.6,477.4 L313.6,481.5 L317.4,482.4" fill="none" stroke="#30b830" stroke-width="1.9" stroke-linejoin="round" stroke-linecap="round"/>
<path d="M293.0,440.3L290.0,440.2M293.0,440.3L291.1,438.0M293.0,440.3L295.2,438.3" stroke="#8c8c8c" stroke-width="2.5" fill="none" stroke-linecap="round"/>
<path d="M293.0,440.3L290.0,440.2M293.0,440.3L291.1,438.0M293.0,440.3L295.2,438.3" stroke="#f4f4f4" stroke-width="1.5" fill="none" stroke-linecap="round"/>
<circle cx="293.0" cy="440.3" r="1.6" fill="#2a40c0"/>
<path d="M295.1,451.4L298.1,451.7M295.1,451.4L295.6,448.5M295.8,455.7L292.4,455.1M295.8,455.7L296.0,458.8M299.5,456.1L303.0,455.6M299.5,456.1L300.4,452.7M303.8,461.9L307.1,463.3M303.8,461.9L304.7,458.9M303.6,466.4L300.5,466.0M303.6,466.4L303.4,470.0M307.4,467.7L310.8,467.8M307.4,467.7L308.9,464.4M307.4,472.0L303.8,471.5M307.4,472.0L305.4,475.0M311.1,473.5L314.6,474.1M311.1,473.5L312.6,470.7M310.3,478.1L307.0,477.3M310.3,478.1L309.0,481.2M314.1,480.1L316.9,481.4M313.6,484.2L310.1,483.6M313.6,484.2L312.7,487.5" stroke="#8c8c8c" stroke-width="2.5" fill="none" stroke-linecap="round"/>
<path d="M295.1,451.4L298.1,451.7M295.1,451.4L295.6,448.5M295.8,455.7L292.4,455.1M295.8,455.7L296.0,458.8M299.5,456.1L303.0,455.6M299.5,456.1L300.4,452.7M303.8,461.9L307.1,463.3M303.8,461.9L304.7,458.9M303.6,466.4L300.5,466.0M303.6,466.4L303.4,470.0M307.4,467.7L310.8,467.8M307.4,467.7L308.9,464.4M307.4,472.0L303.8,471.5M307.4,472.0L305.4,475.0M311.1,473.5L314.6,474.1M311.1,473.5L312.6,470.7M310.3,478.1L307.0,477.3M310.3,478.1L309.0,481.2M314.1,480.1L316.9,481.4M313.6,484.2L310.1,483.6M313.6,484.2L312.7,487.5" stroke="#f4f4f4" stroke-width="1.5" fill="none" stroke-linecap="round"/>
<path d="M290.8,450.2 L295.1,451.4 L295.8,455.7 L299.5,456.1 L299.9,460.8 L303.8,461.9 L303.6,466.4 L307.4,467.7 L307.4,472.0 L311.1,473.5 L310.3,478.1 L314.1,480.1 L313.6,484.2" fill="none" stroke="#178a17" stroke-width="3.0" stroke-linejoin="round" stroke-linecap="round"/>
<path d="M290.8,450.2 L295.1,451.4 L295.8,455.7 L299.5,456.1 L299.9,460.8 L303.8,461.9 L303.6,466.4 L307.4,467.7 L307.4,472.0 L311.1,473.5 L310.3,478.1 L314.1,480.1 L313.6,484.2" fill="none" stroke="#30b830" stroke-width="1.9" stroke-linejoin="round" stroke-linecap="round"/>
<path d="M292.0,449.5L289.1,450.4M292.0,449.5L290.2,447.1M292.0,449.5L293.6,446.9" stroke="#8c8c8c" stroke-width="2.5" fill="none" stroke-linecap="round"/>
<path d="M292.0,449.5L289.1,450.4M292.0,449.5L290.2,447.1M292.0,449.5L293.6,446.9" stroke="#f4f4f4" stroke-width="1.5" fill="none" stroke-linecap="round"/>
<circle cx="292.0" cy="449.5" r="1.6" fill="#2a40c0"/>
<path d="M311.1,444.8L313.8,447.2M308.9,448.2L306.1,446.3M311.7,451.1L313.9,453.5M311.7,451.1L313.6,448.4M310.0,455.3L307.4,453.9M310.0,455.3L309.8,458.6M314.1,456.6L317.0,458.4M313.4,461.0L310.6,460.2M313.4,461.0L313.1,464.1M317.2,462.7L320.1,464.4M316.8,467.3L313.7,466.8M316.8,467.3L315.5,470.8M320.5,467.9L320.3,464.9M321.1,472.1L317.4,471.9M321.1,472.1L321.2,475.7M325.0,473.1L325.4,470.0M325.6,477.3L322.4,478.0M325.6,477.3L325.5,480.4M329.4,478.2L328.6,474.6M330.1,482.5L327.2,483.2M330.1,482.5L330.9,485.4" stroke="#8c8c8c" stroke-width="2.5" fill="none" stroke-linecap="round"/>
<path d="M311.1,444.8L313.8,447.2M308.9,448.2L306.1,446.3M311.7,451.1L313.9,453.5M311.7,451.1L313.6,448.4M310.0,455.3L307.4,453.9M310.0,455.3L309.8,458.6M314.1,456.6L317.0,458.4M313.4,461.0L310.6,460.2M313.4,461.0L313.1,464.1M317.2,462.7L320.1,464.4M316.8,467.3L313.7,466.8M316.8,467.3L315.5,470.8M320.5,467.9L320.3,464.9M321.1,472.1L317.4,471.9M321.1,472.1L321.2,475.7M325.0,473.1L325.4,470.0M325.6,477.3L322.4,478.0M325.6,477.3L325.5,480.4M329.4,478.2L328.6,474.6M330.1,482.5L327.2,483.2M330.1,482.5L330.9,485.4" stroke="#f4f4f4" stroke-width="1.5" fill="none" stroke-linecap="round"/>
<path d="M308.4,441.2 L311.1,444.8 L308.9,448.2 L311.7,451.1 L310.0,455.3 L314.1,456.6 L313.4,461.0 L317.2,462.7 L316.8,467.3 L320.5,467.9 L321.1,472.1 L325.0,473.1 L325.6,477.3 L329.4,478.2 L330.1,482.5" fill="none" stroke="#178a17" stroke-width="3.0" stroke-linejoin="round" stroke-linecap="round"/>
<path d="M308.4,441.2 L311.1,444.8 L308.9,448.2 L311.7,451.1 L310.0,455.3 L314.1,456.6 L313.4,461.0 L317.2,462.7 L316.8,467.3 L320.5,467.9 L321.1,472.1 L325.0,473.1 L325.6,477.3 L329.4,478.2 L330.1,482.5" fill="none" stroke="#30b830" stroke-width="1.9" stroke-linejoin="round" stroke-linecap="round"/>
<path d="M309.4,441.3L306.7,439.9M309.4,441.3L309.7,438.3M309.4,441.3L312.2,440.3" stroke="#8c8c8c" stroke-width="2.5" fill="none" stroke-linecap="round"/>
<path d="M309.4,441.3L306.7,439.9M309.4,441.3L309.7,438.3M309.4,441.3L312.2,440.3" stroke="#f4f4f4" stroke-width="1.5" fill="none" stroke-linecap="round"/>
<circle cx="309.4" cy="441.3" r="1.6" fill="#2a40c0"/>
<path d="M314.8,455.4L317.7,455.5M314.4,459.4L313.9,462.8M318.9,459.7L322.0,460.2M319.6,464.2L316.2,464.6M323.4,464.0L326.9,463.0M324.3,467.8L320.8,466.8M324.3,467.8L323.6,470.9M328.3,468.7L331.2,469.2M328.3,468.7L328.3,465.7M327.9,472.8L326.6,476.0M332.2,474.2L335.3,474.3M332.0,477.9L328.6,477.8M332.0,477.9L331.4,480.9" stroke="#8c8c8c" stroke-width="2.5" fill="none" stroke-linecap="round"/>
<path d="M314.8,455.4L317.7,455.5M314.4,459.4L313.9,462.8M318.9,459.7L322.0,460.2M319.6,464.2L316.2,464.6M323.4,464.0L326.9,463.0M324.3,467.8L320.8,466.8M324.3,467.8L323.6,470.9M328.3,468.7L331.2,469.2M328.3,468.7L328.3,465.7M327.9,472.8L326.6,476.0M332.2,474.2L335.3,474.3M332.0,477.9L328.6,477.8M332.0,477.9L331.4,480.9" stroke="#f4f4f4" stroke-width="1.5" fill="none" stroke-linecap="round"/>
<path d="M310.7,454.5 L314.8,455.4 L314.4,459.4 L318.9,459.7 L319.6,464.2 L323.4,464.0 L324.3,467.8 L328.3,468.7 L327.9,472.8 L332.2,474.2 L332.0,477.9" fill="none" stroke="#178a17" stroke-width="3.0" stroke-linejoin="round" stroke-linecap="round"/>
<path d="M310.7,454.5 L314.8,455.4 L314.4,459.4 L318.9,459.7 L319.6,464.2 L323.4,464.0 L324.3,467.8 L328.3,468.7 L327.9,472.8 L332.2,474.2 L332.0,477.9" fill="none" stroke="#30b830" stroke-width="1.9" stroke-linejoin="round" stroke-linecap="round"/>
<path d="M311.5,453.6L308.7,454.7M311.5,453.6L309.8,451.1M311.5,453.6L312.4,450.7" stroke="#8c8c8c" stroke-width="2.5" fill="none" stroke-linecap="round"/>
<path d="M311.5,453.6L308.7,454.7M311.5,453.6L309.8,451.1M311.5,453.6L312.4,450.7" stroke="#f4f4f4" stroke-width="1.5" fill="none" stroke-linecap="round"/>
<circle cx="311.5" cy="453.6" r="1.6" fill="#2a40c0"/>
<path d="M327.7,447.0L329.0,450.1M327.7,447.0L330.3,445.4M324.7,449.6L322.8,446.5M324.7,449.6L322.1,451.0M328.3,452.2L331.3,452.4M328.3,452.2L329.2,448.8M327.3,456.1L323.8,454.8M327.3,456.1L325.9,458.9M331.1,458.0L333.7,459.5M331.1,458.0L332.3,455.1M330.3,461.8L329.4,465.4M334.2,462.9L337.6,463.3M334.4,467.3L334.7,470.7M338.0,467.9L341.4,468.4M338.0,467.9L339.3,464.6" stroke="#8c8c8c" stroke-width="2.5" fill="none" stroke-linecap="round"/>
<path d="M327.7,447.0L329.0,450.1M327.7,447.0L330.3,445.4M324.7,449.6L322.8,446.5M324.7,449.6L322.1,451.0M328.3,452.2L331.3,452.4M328.3,452.2L329.2,448.8M327.3,456.1L323.8,454.8M327.3,456.1L325.9,458.9M331.1,458.0L333.7,459.5M331.1,458.0L332.3,455.1M330.3,461.8L329.4,465.4M334.2,462.9L337.6,463.3M334.4,467.3L334.7,470.7M338.0,467.9L341.4,468.4M338.0,467.9L339.3,464.6" stroke="#f4f4f4" stroke-width="1.5" fill="none" stroke-linecap="round"/>
<path d="M325.7,443.5 L327.7,447.0 L324.7,449.6 L328.3,452.2 L327.3,456.1 L331.1,458.0 L330.3,461.8 L334.2,462.9 L334.4,467.3 L338.0,467.9" fill="none" stroke="#178a17" stroke-width="3.0" stroke-linejoin="round" stroke-linecap="round"/>
<path d="M325.7,443.5 L327.7,447.0 L324.7,449.6 L328.3,452.2 L327.3,456.1 L331.1,458.0 L330.3,461.8 L334.2,462.9 L334.4,467.3 L338.0,467.9" fill="none" stroke="#30b830" stroke-width="1.9" stroke-linejoin="round" stroke-linecap="round"/>
<path d="M326.9,443.4L324.1,442.2M326.9,443.4L326.5,440.4M326.9,443.4L329.9,443.2" stroke="#8c8c8c" stroke-width="2.5" fill="none" stroke-linecap="round"/>
<path d="M326.9,443.4L324.1,442.2M326.9,443.4L326.5,440.4M326.9,443.4L329.9,443.2" stroke="#f4f4f4" stroke-width="1.5" fill="none" stroke-linecap="round"/>
<circle cx="326.9" cy="443.4" r="1.6" fill="#2a40c0"/>
<path d="M290.4,459.3L291.7,456.4M289.9,463.7L286.7,462.4M293.7,465.5L297.1,466.6M297.1,471.2L299.9,472.2M297.1,471.2L297.2,467.6M296.1,476.0L292.9,475.7M299.8,481.6L298.9,484.8M303.8,483.3L306.6,484.6M303.3,487.6L300.4,486.3M306.9,489.6L309.9,490.0" stroke="#8c8c8c" stroke-width="2.5" fill="none" stroke-linecap="round"/>
<path d="M290.4,459.3L291.7,456.4M289.9,463.7L286.7,462.4M293.7,465.5L297.1,466.6M297.1,471.2L299.9,472.2M297.1,471.2L297.2,467.6M296.1,476.0L292.9,475.7M299.8,481.6L298.9,484.8M303.8,483.3L306.6,484.6M303.3,487.6L300.4,486.3M306.9,489.6L309.9,490.0" stroke="#f4f4f4" stroke-width="1.5" fill="none" stroke-linecap="round"/>
<path d="M286.7,457.0 L290.4,459.3 L289.9,463.7 L293.7,465.5 L293.0,470.0 L297.1,471.2 L296.1,476.0 L300.3,477.3 L299.8,481.6 L303.8,483.3 L303.3,487.6 L306.9,489.6" fill="none" stroke="#178a17" stroke-width="3.0" stroke-linejoin="round" stroke-linecap="round"/>
<path d="M286.7,457.0 L290.4,459.3 L289.9,463.7 L293.7,465.5 L293.0,470.0 L297.1,471.2 L296.1,476.0 L300.3,477.3 L299.8,481.6 L303.8,483.3 L303.3,487.6 L306.9,489.6" fill="none" stroke="#30b830" stroke-width="1.9" stroke-linejoin="round" stroke-linecap="round"/>
<path d="M287.9,456.7L284.9,456.2M287.9,456.7L286.1,454.3M287.9,456.7L289.8,454.4" stroke="#8c8c8c" stroke-width="2.5" fill="none" stroke-linecap="round"/>
<path d="M287.9,456.7L284.9,456.2M287.9,456.7L286.1,454.3M287.9,456.7L289.8,454.4" stroke="#f4f4f4" stroke-width="1.5" fill="none" stroke-linecap="round"/>
<circle cx="287.9" cy="456.7" r="1.6" fill="#2a40c0"/>
<path d="M291.4,478.4L293.3,475.6M294.0,484.6L297.6,485.3M292.6,488.6L290.1,487.2M292.6,488.6L291.7,491.4M294.4,491.5L297.5,490.7M290.7,493.7L289.9,490.1M290.7,493.7L287.8,494.7M292.4,497.4L293.7,500.3M289.0,499.5L285.9,501.0" stroke="#8c8c8c" stroke-width="2.5" fill="none" stroke-linecap="round"/>
<path d="M291.4,478.4L293.3,475.6M294.0,484.6L297.6,485.3M292.6,488.6L290.1,487.2M292.6,488.6L291.7,491.4M294.4,491.5L297.5,490.7M290.7,493.7L289.9,490.1M290.7,493.7L287.8,494.7M292.4,497.4L293.7,500.3M289.0,499.5L285.9,501.0" stroke="#f4f4f4" stroke-width="1.5" fill="none" stroke-linecap="round"/>
<path d="M287.9,476.5 L291.4,478.4 L290.1,482.7 L294.0,484.6 L292.6,488.6 L294.4,491.5 L290.7,493.7 L292.4,497.4 L289.0,499.5" fill="none" stroke="#178a17" stroke-width="3.0" stroke-linejoin="round" stroke-linecap="round"/>
<path d="M287.9,476.5 L291.4,478.4 L290.1,482.7 L294.0,484.6 L292.6,488.6 L294.4,491.5 L290.7,493.7 L292.4,497.4 L289.0,499.5" fill="none" stroke="#30b830" stroke-width="1.9" stroke-linejoin="round" stroke-linecap="round"/>
<path d="M289.0,476.0L286.0,476.1M289.0,476.0L287.4,473.5M289.0,476.0L290.8,473.6" stroke="#8c8c8c" stroke-width="2.5" fill="none" stroke-linecap="round"/>
<path d="M289.0,476.0L286.0,476.1M289.0,476.0L287.4,473.5M289.0,476.0L290.8,473.6" stroke="#f4f4f4" stroke-width="1.5" fill="none" stroke-linecap="round"/>
<circle cx="289.0" cy="476.0" r="1.6" fill="#2a40c0"/>
<path d="M395.1,460.3L394.7,463.6M390.5,459.8L391.4,456.8M389.1,463.9L392.1,465.3M382.5,465.7L381.3,468.6M382.5,465.7L385.3,466.5M379.0,464.0L380.0,460.7M379.0,464.0L376.2,462.6M372.6,466.1L369.2,464.7M366.4,468.1L368.3,464.9M366.4,468.1L364.1,466.0M360.0,469.0L362.0,466.3M360.0,469.0L357.3,466.9M357.3,472.5L355.5,475.8M357.3,472.5L359.8,473.9M354.0,469.8L355.8,466.9M351.0,472.4L353.1,474.5" stroke="#8c8c8c" stroke-width="2.5" fill="none" stroke-linecap="round"/>
<path d="M395.1,460.3L394.7,463.6M390.5,459.8L391.4,456.8M389.1,463.9L392.1,465.3M382.5,465.7L381.3,468.6M382.5,465.7L385.3,466.5M379.0,464.0L380.0,460.7M379.0,464.0L376.2,462.6M372.6,466.1L369.2,464.7M366.4,468.1L368.3,464.9M366.4,468.1L364.1,466.0M360.0,469.0L362.0,466.3M360.0,469.0L357.3,466.9M357.3,472.5L355.5,475.8M357.3,472.5L359.8,473.9M354.0,469.8L355.8,466.9M351.0,472.4L353.1,474.5" stroke="#f4f4f4" stroke-width="1.5" fill="none" stroke-linecap="round"/>
<path d="M396.6,456.4 L395.1,460.3 L390.5,459.8 L389.1,463.9 L385.0,462.6 L382.5,465.7 L379.0,464.0 L376.6,467.8 L372.6,466.1 L370.2,469.3 L366.4,468.1 L363.8,471.0 L360.0,469.0 L357.3,472.5 L354.0,469.8 L351.0,472.4" fill="none" stroke="#178a17" stroke-width="3.0" stroke-linejoin="round" stroke-linecap="round"/>
<path d="M396.6,456.4 L395.1,460.3 L390.5,459.8 L389.1,463.9 L385.0,462.6 L382.5,465.7 L379.0,464.0 L376.6,467.8 L372.6,466.1 L370.2,469.3 L366.4,468.1 L363.8,471.0 L360.0,469.0 L357.3,472.5 L354.0,469.8 L351.0,472.4" fill="none" stroke="#30b830" stroke-width="1.9" stroke-linejoin="round" stroke-linecap="round"/>
<path d="M397.0,457.7L396.4,454.8M397.0,457.7L399.2,455.7M397.0,457.7L399.5,459.4" stroke="#8c8c8c" stroke-width="2.5" fill="none" stroke-linecap="round"/>
<path d="M397.0,457.7L396.4,454.8M397.0,457.7L399.2,455.7M397.0,457.7L399.5,459.4" stroke="#f4f4f4" stroke-width="1.5" fill="none" stroke-linecap="round"/>
<circle cx="397.0" cy="457.7" r="1.6" fill="#2a40c0"/>
<path d="M372.3,468.6L368.9,468.5M371.3,472.7L370.9,476.0M371.3,472.7L374.6,472.8M366.7,472.2L363.7,471.7M364.9,476.4L364.4,479.5M360.7,476.0L357.0,475.5M359.1,479.7L358.4,482.6M359.1,479.7L362.2,481.4M354.6,479.5L355.9,476.3M354.6,479.5L351.8,478.0M352.4,483.2L351.6,486.7M352.4,483.2L355.5,484.5" stroke="#8c8c8c" stroke-width="2.5" fill="none" stroke-linecap="round"/>
<path d="M372.3,468.6L368.9,468.5M371.3,472.7L370.9,476.0M371.3,472.7L374.6,472.8M366.7,472.2L363.7,471.7M364.9,476.4L364.4,479.5M360.7,476.0L357.0,475.5M359.1,479.7L358.4,482.6M359.1,479.7L362.2,481.4M354.6,479.5L355.9,476.3M354.6,479.5L351.8,478.0M352.4,483.2L351.6,486.7M352.4,483.2L355.5,484.5" stroke="#f4f4f4" stroke-width="1.5" fill="none" stroke-linecap="round"/>
<path d="M378.0,464.3 L376.8,468.1 L372.3,468.6 L371.3,472.7 L366.7,472.2 L364.9,476.4 L360.7,476.0 L359.1,479.7 L354.6,479.5 L352.4,483.2" fill="none" stroke="#178a17" stroke-width="3.0" stroke-linejoin="round" stroke-linecap="round"/>
<path d="M378.0,464.3 L376.8,468.1 L372.3,468.6 L371.3,472.7 L366.7,472.2 L364.9,476.4 L360.7,476.0 L359.1,479.7 L354.6,479.5 L352.4,483.2" fill="none" stroke="#30b830" stroke-width="1.9" stroke-linejoin="round" stroke-linecap="round"/>
<path d="M378.6,465.0L378.1,462.0M378.6,465.0L380.6,462.7M378.6,465.0L381.1,466.7" stroke="#8c8c8c" stroke-width="2.5" fill="none" stroke-linecap="round"/>
<path d="M378.6,465.0L378.1,462.0M378.6,465.0L380.6,462.7M378.6,465.0L381.1,466.7" stroke="#f4f4f4" stroke-width="1.5" fill="none" stroke-linecap="round"/>
<circle cx="378.6" cy="465.0" r="1.6" fill="#2a40c0"/>
<path d="M359.7,469.2L360.7,465.9M358.4,473.6L355.1,472.6M358.4,473.6L357.5,476.6M362.4,474.6L362.2,471.7M362.5,479.0L359.1,478.4M366.5,479.7L369.9,479.8M366.4,484.1L362.8,484.0M366.4,484.1L366.5,487.6" stroke="#8c8c8c" stroke-width="2.5" fill="none" stroke-linecap="round"/>
<path d="M359.7,469.2L360.7,465.9M358.4,473.6L355.1,472.6M358.4,473.6L357.5,476.6M362.4,474.6L362.2,471.7M362.5,479.0L359.1,478.4M366.5,479.7L369.9,479.8M366.4,484.1L362.8,484.0M366.4,484.1L366.5,487.6" stroke="#f4f4f4" stroke-width="1.5" fill="none" stroke-linecap="round"/>
<path d="M355.6,467.8 L359.7,469.2 L358.4,473.6 L362.4,474.6 L362.5,479.0 L366.5,479.7 L366.4,484.1" fill="none" stroke="#178a17" stroke-width="3.0" stroke-linejoin="round" stroke-linecap="round"/>
<path d="M355.6,467.8 L359.7,469.2 L358.4,473.6 L362.4,474.6 L362.5,479.0 L366.5,479.7 L366.4,484.1" fill="none" stroke="#30b830" stroke-width="1.9" stroke-linejoin="round" stroke-linecap="round"/>
<path d="M357.0,467.0L354.1,466.4M357.0,467.0L355.3,464.5M357.0,467.0L358.5,464.4" stroke="#8c8c8c" stroke-width="2.5" fill="none" stroke-linecap="round"/>
<path d="M357.0,467.0L354.1,466.4M357.0,467.0L355.3,464.5M357.0,467.0L358.5,464.4" stroke="#f4f4f4" stroke-width="1.5" fill="none" stroke-linecap="round"/>
<circle cx="357.0" cy="467.0" r="1.6" fill="#2a40c0"/>
<path d="M405.1,481.4L403.5,484.6M401.7,479.4L403.0,476.2M401.7,479.4L399.1,478.0M398.4,482.4L396.1,485.2M398.4,482.4L401.4,483.7M395.1,481.5L396.9,478.6M395.1,481.5L392.4,479.6M385.9,487.2L383.7,489.2M381.9,485.5L384.1,482.7M379.6,488.4L377.7,491.4M375.2,486.8L376.3,484.0M375.2,486.8L372.3,485.4M373.2,490.8L371.6,493.5M373.2,490.8L375.9,492.8M368.8,489.2L370.7,486.3M368.8,489.2L366.1,488.0M367.0,493.5L369.8,495.4M362.7,491.9L364.8,488.9M362.7,491.9L359.6,490.1M360.6,495.9L359.9,498.7M360.6,495.9L363.1,497.4M356.2,494.5L353.0,493.7" stroke="#8c8c8c" stroke-width="2.5" fill="none" stroke-linecap="round"/>
<path d="M405.1,481.4L403.5,484.6M401.7,479.4L403.0,476.2M401.7,479.4L399.1,478.0M398.4,482.4L396.1,485.2M398.4,482.4L401.4,483.7M395.1,481.5L396.9,478.6M395.1,481.5L392.4,479.6M385.9,487.2L383.7,489.2M381.9,485.5L384.1,482.7M379.6,488.4L377.7,491.4M375.2,486.8L376.3,484.0M375.2,486.8L372.3,485.4M373.2,490.8L371.6,493.5M373.2,490.8L375.9,492.8M368.8,489.2L370.7,486.3M368.8,489.2L366.1,488.0M367.0,493.5L369.8,495.4M362.7,491.9L364.8,488.9M362.7,491.9L359.6,490.1M360.6,495.9L359.9,498.7M360.6,495.9L363.1,497.4M356.2,494.5L353.0,493.7" stroke="#f4f4f4" stroke-width="1.5" fill="none" stroke-linecap="round"/>
<path d="M408.4,478.3 L405.1,481.4 L401.7,479.4 L398.4,482.4 L395.1,481.5 L392.3,484.9 L388.6,483.7 L385.9,487.2 L381.9,485.5 L379.6,488.4 L375.2,486.8 L373.2,490.8 L368.8,489.2 L367.0,493.5 L362.7,491.9 L360.6,495.9 L356.2,494.5" fill="none" stroke="#178a17" stroke-width="3.0" stroke-linejoin="round" stroke-linecap="round"/>
<path d="M408.4,478.3 L405.1,481.4 L401.7,479.4 L398.4,482.4 L395.1,481.5 L392.3,484.9 L388.6,483.7 L385.9,487.2 L381.9,485.5 L379.6,488.4 L375.2,486.8 L373.2,490.8 L368.8,489.2 L367.0,493.5 L362.7,491.9 L360.6,495.9 L356.2,494.5" fill="none" stroke="#30b830" stroke-width="1.9" stroke-linejoin="round" stroke-linecap="round"/>
<path d="M408.4,479.3L409.2,476.4M408.4,479.3L411.3,478.5M408.4,479.3L409.7,482.0" stroke="#8c8c8c" stroke-width="2.5" fill="none" stroke-linecap="round"/>
<path d="M408.4,479.3L409.2,476.4M408.4,479.3L411.3,478.5M408.4,479.3L409.7,482.0" stroke="#f4f4f4" stroke-width="1.5" fill="none" stroke-linecap="round"/>
<circle cx="408.4" cy="479.3" r="1.6" fill="#2a40c0"/>
<path d="M396.4,492.2L399.4,493.8M389.9,495.4L393.4,496.6M385.8,493.9L382.9,491.7M383.3,497.8L381.4,500.8M379.4,496.8L380.2,493.9M379.4,496.8L376.2,495.1M376.5,500.1L379.5,502.3M372.6,498.2L374.7,496.1M369.4,501.9L372.2,504.2" stroke="#8c8c8c" stroke-width="2.5" fill="none" stroke-linecap="round"/>
<path d="M396.4,492.2L399.4,493.8M389.9,495.4L393.4,496.6M385.8,493.9L382.9,491.7M383.3,497.8L381.4,500.8M379.4,496.8L380.2,493.9M379.4,496.8L376.2,495.1M376.5,500.1L379.5,502.3M372.6,498.2L374.7,496.1M369.4,501.9L372.2,504.2" stroke="#f4f4f4" stroke-width="1.5" fill="none" stroke-linecap="round"/>
<path d="M398.4,488.4 L396.4,492.2 L392.0,491.4 L389.9,495.4 L385.8,493.9 L383.3,497.8 L379.4,496.8 L376.5,500.1 L372.6,498.2 L369.4,501.9" fill="none" stroke="#178a17" stroke-width="3.0" stroke-linejoin="round" stroke-linecap="round"/>
<path d="M398.4,488.4 L396.4,492.2 L392.0,491.4 L389.9,495.4 L385.8,493.9 L383.3,497.8 L379.4,496.8 L376.5,500.1 L372.6,498.2 L369.4,501.9" fill="none" stroke="#30b830" stroke-width="1.9" stroke-linejoin="round" stroke-linecap="round"/>
<path d="M399.0,489.6L398.3,486.7M399.0,489.6L401.8,488.6M399.0,489.6L400.9,491.9" stroke="#8c8c8c" stroke-width="2.5" fill="none" stroke-linecap="round"/>
<path d="M399.0,489.6L398.3,486.7M399.0,489.6L401.8,488.6M399.0,489.6L400.9,491.9" stroke="#f4f4f4" stroke-width="1.5" fill="none" stroke-linecap="round"/>
<circle cx="399.0" cy="489.6" r="1.6" fill="#2a40c0"/>
<path d="M383.2,473.4L383.5,476.4M379.2,474.1L379.5,470.6M379.2,474.1L375.9,474.5M378.8,478.1L381.7,477.8M375.1,478.9L373.9,475.9M375.3,483.2L375.7,486.4M375.3,483.2L378.5,482.5M371.1,484.5L370.0,481.4M371.1,484.5L367.9,484.2M370.8,488.2L371.8,491.7M367.1,489.3L364.0,489.4" stroke="#8c8c8c" stroke-width="2.5" fill="none" stroke-linecap="round"/>
<path d="M383.2,473.4L383.5,476.4M379.2,474.1L379.5,470.6M379.2,474.1L375.9,474.5M378.8,478.1L381.7,477.8M375.1,478.9L373.9,475.9M375.3,483.2L375.7,486.4M375.3,483.2L378.5,482.5M371.1,484.5L370.0,481.4M371.1,484.5L367.9,484.2M370.8,488.2L371.8,491.7M367.1,489.3L364.0,489.4" stroke="#f4f4f4" stroke-width="1.5" fill="none" stroke-linecap="round"/>
<path d="M383.1,469.4 L383.2,473.4 L379.2,474.1 L378.8,478.1 L375.1,478.9 L375.3,483.2 L371.1,484.5 L370.8,488.2 L367.1,489.3" fill="none" stroke="#178a17" stroke-width="3.0" stroke-linejoin="round" stroke-linecap="round"/>
<path d="M383.1,469.4 L383.2,473.4 L379.2,474.1 L378.8,478.1 L375.1,478.9 L375.3,483.2 L371.1,484.5 L370.8,488.2 L367.1,489.3" fill="none" stroke="#30b830" stroke-width="1.9" stroke-linejoin="round" stroke-linecap="round"/>
<path d="M384.0,470.0L382.7,467.3M384.0,470.0L386.0,467.8M384.0,470.0L386.7,471.4" stroke="#8c8c8c" stroke-width="2.5" fill="none" stroke-linecap="round"/>
<path d="M384.0,470.0L382.7,467.3M384.0,470.0L386.0,467.8M384.0,470.0L386.7,471.4" stroke="#f4f4f4" stroke-width="1.5" fill="none" stroke-linecap="round"/>
<circle cx="384.0" cy="470.0" r="1.6" fill="#2a40c0"/>
<circle cx="327.4" cy="480.0" r="6.4" fill="url(#sph)"/>
<circle cx="343.8" cy="482.0" r="6.4" fill="url(#sph)"/>
<circle cx="320.0" cy="485.6" r="6.4" fill="url(#sph)"/>
<circle cx="335.0" cy="486.0" r="6.4" fill="url(#sph)"/>
<circle cx="346.6" cy="487.4" r="6.4" fill="url(#sph)"/>
<circle cx="354.8" cy="491.0" r="6.4" fill="url(#sph)"/>
<circle cx="325.6" cy="492.9" r="6.4" fill="url(#sph)"/>
<circle cx="338.4" cy="493.8" r="6.4" fill="url(#sph)"/>
<circle cx="314.6" cy="494.7" r="6.4" fill="url(#sph)"/>
<circle cx="349.3" cy="496.5" r="6.4" fill="url(#sph)"/>
<circle cx="364.0" cy="496.5" r="6.4" fill="url(#sph)"/>
<circle cx="329.2" cy="498.4" r="6.4" fill="url(#sph)"/>
<circle cx="369.4" cy="499.3" r="6.4" fill="url(#sph)"/>
<circle cx="342.0" cy="499.3" r="6.4" fill="url(#sph)"/>
<circle cx="308.0" cy="501.0" r="6.4" fill="url(#sph)"/>
<circle cx="357.0" cy="502.0" r="6.4" fill="url(#sph)"/>
<path d="M335.0,475.3L337.2,477.5M335.0,475.3L336.6,472.7M333.2,479.2L330.4,476.8M333.2,479.2L331.9,482.2M335.0,486.3L331.6,485.0M335.0,486.3L332.7,489.1" stroke="#8c8c8c" stroke-width="2.5" fill="none" stroke-linecap="round"/>
<path d="M335.0,475.3L337.2,477.5M335.0,475.3L336.6,472.7M333.2,479.2L330.4,476.8M333.2,479.2L331.9,482.2M335.0,486.3L331.6,485.0M335.0,486.3L332.7,489.1" stroke="#f4f4f4" stroke-width="1.5" fill="none" stroke-linecap="round"/>
<path d="M331.6,472.1 L335.0,475.3 L333.2,479.2 L336.8,482.0 L335.0,486.3" fill="none" stroke="#178a17" stroke-width="3.0" stroke-linejoin="round" stroke-linecap="round"/>
<path d="M331.6,472.1 L335.0,475.3 L333.2,479.2 L336.8,482.0 L335.0,486.3" fill="none" stroke="#30b830" stroke-width="1.9" stroke-linejoin="round" stroke-linecap="round"/>
<path d="M352.4,482.1L354.3,479.9M349.6,486.0L347.5,483.5M349.6,486.0L346.8,487.4M351.3,490.2L353.2,492.5M351.3,490.2L354.1,489.0" stroke="#8c8c8c" stroke-width="2.5" fill="none" stroke-linecap="round"/>
<path d="M352.4,482.1L354.3,479.9M349.6,486.0L347.5,483.5M349.6,486.0L346.8,487.4M351.3,490.2L353.2,492.5M351.3,490.2L354.1,489.0" stroke="#f4f4f4" stroke-width="1.5" fill="none" stroke-linecap="round"/>
<path d="M350.8,477.7 L352.4,482.1 L349.6,486.0 L351.3,490.2" fill="none" stroke="#178a17" stroke-width="3.0" stroke-linejoin="round" stroke-linecap="round"/>
<path d="M350.8,477.7 L352.4,482.1 L349.6,486.0 L351.3,490.2" fill="none" stroke="#30b830" stroke-width="1.9" stroke-linejoin="round" stroke-linecap="round"/>
<path d="M316.8,433.3 L320,436 L328.2,442.3 L331.3,448.5 L332.3,460.8 L340.5,467 L350.8,463.9 L359,457.7 L356,450.5 L351.8,442.3 L345.7,441.3" fill="none" stroke="#a838a8" stroke-width="2.1" stroke-linecap="round" stroke-linejoin="round"/>
<circle cx="345.5" cy="441.3" r="1.3" fill="#2a3fc8"/><circle cx="316.8" cy="433.3" r="1.3" fill="#22b022"/>
</g>
<rect x="254.90" y="373.90" width="171.30" height="131.30" fill="none" stroke="#000" stroke-width="2.3" />
<text x="294.40" y="431.60" font-family='"Liberation Sans", sans-serif' font-size="16" font-weight="normal" font-style="normal" text-anchor="start" fill="#111" textLength="33.4" lengthAdjust="spacingAndGlyphs">C-ter</text>
<text x="343.40" y="431.60" font-family='"Liberation Sans", sans-serif' font-size="16" font-weight="normal" font-style="normal" text-anchor="start" fill="#111" textLength="36" lengthAdjust="spacingAndGlyphs">N-ter</text>
<text x="393.50" y="398.30" font-family='"Liberation Sans", sans-serif' font-size="13.8" font-weight="bold" font-style="normal" text-anchor="start" fill="#111" >(f)</text>
</svg></body></html>
